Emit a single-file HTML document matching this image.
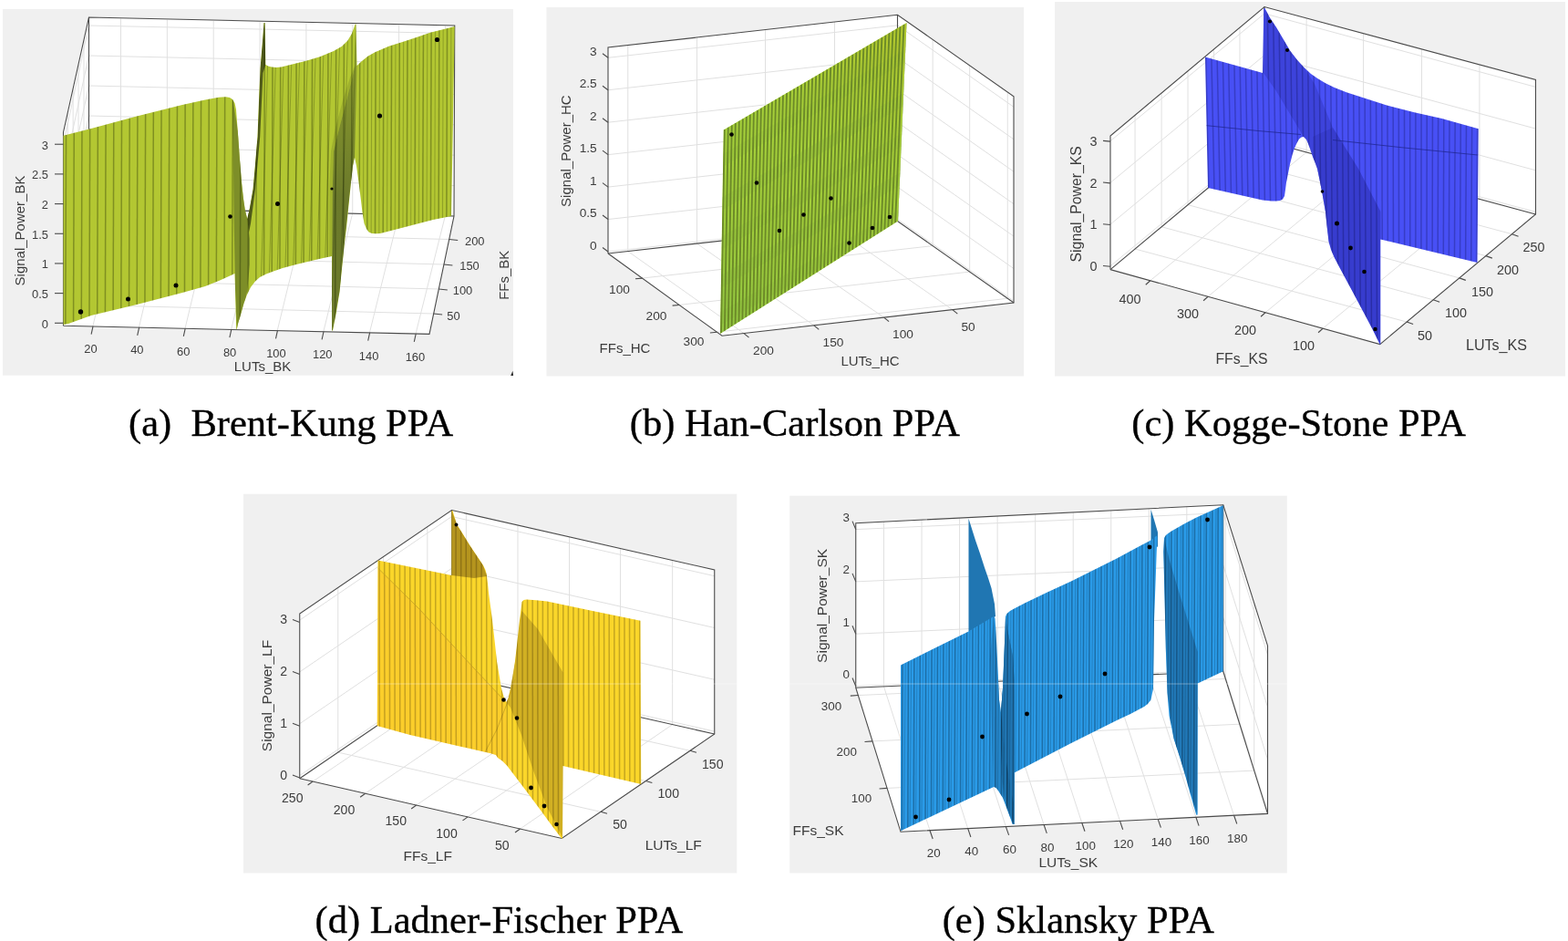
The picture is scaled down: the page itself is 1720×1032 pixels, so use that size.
<!DOCTYPE html>
<html lang="en"><head><meta charset="utf-8"><title>PPA surface plots</title>
<style>
html,body{margin:0;padding:0;background:#fff;}
body{width:1720px;height:1032px;overflow:hidden;}
svg{display:block;}
text{white-space:pre;}
</style></head><body>
<svg width="1720" height="1032" viewBox="0 0 1720 1032">
<defs>
<clipPath id="c1"><polygon points="69.50,148.75 100,141 150,127.50 200,115 225,109.50 240,106.80 247.50,106.25 252,107 255,109 257.50,113 259,120 261.25,150 263,175 265,200 267,218 268.75,230 271.25,240 274,228 277.50,207.50 280,180 282.50,150 284,110 285.50,75 288,45 289.50,25 290.50,25 291,50 291.30,71 291.50,71 294,72.60 298,73.50 303,73.90 308.60,73.50 320.70,70.50 335.80,66.70 350.90,62.20 366,56.10 375.10,50.80 381.20,44.80 385.70,37.20 388.40,30 389.60,26.60 390.50,26.60 391,50 391.50,72 392.50,71.20 396.30,67.40 403.80,61.40 411.40,57.20 426.50,50.80 441.60,46 456.80,41 471.90,35.70 490,31.20 498.75,29 497,130 495,237 475,241 450,247.50 425,254 417,256 412.50,256.30 408,256 404.50,254.50 402,251 399.50,245 397.50,233 396,220 393.50,200 391,182 389,172.50 387,182 385,200 382.50,225 380,250 377.50,270 375,295 372.50,320 369,342 365,362.50 364,362.50 364,281 350,284 325,290 310,294 300,297.50 292,300.50 285,304 280,308.50 275,315 271,323 267.50,332.50 264,345 261,355 259.80,361 259.20,361 257.50,300 240,308 225,314 200,321 150,334 100,346 75,355 69.50,356"/></clipPath>
<linearGradient id="gA" gradientUnits="userSpaceOnUse" x1="0" y1="40" x2="0" y2="215"><stop offset="0" stop-color="#66742a" stop-opacity="0.45"/><stop offset="1" stop-color="#66742a" stop-opacity="0.93"/></linearGradient>
<clipPath id="c2"><polygon points="793.75,142.50 994.50,25 985,242.50 790,366"/></clipPath>
<linearGradient id="gB" gradientUnits="userSpaceOnUse" x1="960" y1="40" x2="820" y2="350"><stop offset="0" stop-color="#c0c020" stop-opacity="0.45"/><stop offset="0.45" stop-color="#a0c830" stop-opacity="0.1"/><stop offset="1" stop-color="#78b848" stop-opacity="0.4"/></linearGradient>
<clipPath id="c3"><polygon points="1322,62.50 1385,80 1386.30,9 1387.50,9 1393,19.50 1400.20,30.20 1408,43.50 1415.40,55.90 1422.90,65.80 1430.50,74.10 1438,80.90 1445.60,86.20 1454,91.20 1463.70,96 1477,101.20 1490.90,105.80 1521.20,115.60 1551.40,123.20 1581.60,130 1621.70,141.30 1620.50,288 1514.30,262.50 1514.30,377.50 1513.50,377.50 1505,360 1496,343 1488,328 1480,313 1470,294.50 1463.60,282.30 1460,274 1457.50,265 1455.80,250 1454,232.50 1452,221 1450,210 1447.50,197 1445,185 1442.50,178 1440,172 1437,163 1435,157.50 1433,153 1430,150 1427.50,150.50 1425,152.50 1422.50,157 1420,162.50 1417.50,170 1415,180 1413,190 1411,200 1410,208 1409,215 1407,218.50 1404,220 1400,220.50 1395,220.50 1385,219.50 1365,215 1345,210.50 1325,206"/></clipPath>
<clipPath id="c4"><polygon points="414.50,614.50 495.50,631 495.50,560 496.50,560 501,575 508,586 515,597.50 522,608 530,620 532.50,625 533.75,630 535,640 536,650 538,665 540,680 542.50,702 545,725 547.50,740 550,755 552,762 553.75,767.50 555.50,770 557.50,766 560,755 562.50,741 565,725 567.50,703 570,680 571.50,668 572.50,660 574.50,658 577.50,657.50 588,658.20 600,659.50 650,670 702.50,680.75 703.25,860 617.50,840 617,919.50 616,919.50 605,905 590,884.50 575,864.50 564,850 556,839.50 551,834.50 546,831 544,828 537.50,826 500,817.50 450,806 413.75,796"/></clipPath>
<clipPath id="c5"><polygon points="988,729.50 1025,711 1062.50,692.50 1090,676 1091.50,678 1092.30,690 1093.75,717.50 1095,745 1096,767.50 1097.50,777.50 1099,790 1103,830 1108,860 1111.50,880 1111.50,903.75 1107.50,895 1100,875 1095,867 1092.50,864 1090,863 988,911.25"/></clipPath>
<clipPath id="c6"><polygon points="1103,676 1104.50,673 1108,670 1112.50,667.50 1125,661 1150,649 1175,637.50 1200,625 1225,612.50 1250,599 1262.50,592.50 1268.75,587.50 1269.50,590 1268.75,605 1267.50,640 1266,680 1265.50,720 1265,755 1264,760 1262.50,767.50 1259,772 1255,775 1240,783 1225,790 1200,802.50 1175,815 1150,828 1112.50,847.50 1112,903.75 1110.50,903.75 1107,893 1103,880 1100,860 1098,820 1098,780 1100,755 1101,730 1102.50,692.50"/></clipPath>
<clipPath id="c7"><polygon points="1277,590 1278.50,587.50 1280,586 1285,582.50 1300,574 1312.50,567.50 1341.75,554.25 1341.75,736.25 1313.75,749.50 1313.50,893.75 1312.30,893.75 1306,872 1300,850 1294,830 1287.50,810 1285,797 1282.50,785 1280.50,760 1278.75,710 1277.50,655 1276.25,605"/></clipPath>
<clipPath id="c8"><polygon points="988,729.50 1025,711 1062.50,692.50 1090,676 1091.50,678 1092.30,690 1093.75,717.50 1095,745 1096,767.50 1097.50,777.50 1099,790 1103,830 1108,860 1111.50,880 1111.50,903.75 1107.50,895 1100,875 1095,867 1092.50,864 1090,863 988,911.25"/></clipPath>
<clipPath id="c9"><polygon points="1103,676 1104.50,673 1108,670 1112.50,667.50 1125,661 1150,649 1175,637.50 1200,625 1225,612.50 1250,599 1262.50,592.50 1268.75,587.50 1269.50,590 1268.75,605 1267.50,640 1266,680 1265.50,720 1265,755 1264,760 1262.50,767.50 1259,772 1255,775 1240,783 1225,790 1200,802.50 1175,815 1150,828 1112.50,847.50 1112,903.75 1110.50,903.75 1107,893 1103,880 1100,860 1098,820 1098,780 1100,755 1101,730 1102.50,692.50"/></clipPath>
<clipPath id="c10"><polygon points="1277,590 1278.50,587.50 1280,586 1285,582.50 1300,574 1312.50,567.50 1341.75,554.25 1341.75,736.25 1313.75,749.50 1313.50,893.75 1312.30,893.75 1306,872 1300,850 1294,830 1287.50,810 1285,797 1282.50,785 1280.50,760 1278.75,710 1277.50,655 1276.25,605"/></clipPath>
</defs>
<rect width="1720" height="1032" fill="#ffffff"/>
<!-- panel a -->
<rect x="3" y="10" width="560" height="401.7" fill="#f0f0f0"/>
<polygon points="562.40,406.80 563.10,412 560.20,412" fill="#2a2a2a" stroke="none" stroke-width="1" />
<polygon points="69.50,145 97.50,19 498.75,28 498,237 471,366.40 69.50,357.20" fill="#fff" stroke="none" stroke-width="1" />
<line x1="132.50" y1="20.58" x2="132.50" y2="227.88" stroke="#e0e0e0" stroke-width="1" />
<line x1="183.35" y1="21.72" x2="183.35" y2="229.15" stroke="#e0e0e0" stroke-width="1" />
<line x1="234.20" y1="22.86" x2="234.20" y2="230.42" stroke="#e0e0e0" stroke-width="1" />
<line x1="285.05" y1="24.00" x2="285.05" y2="231.69" stroke="#e0e0e0" stroke-width="1" />
<line x1="335.90" y1="25.14" x2="335.90" y2="232.96" stroke="#e0e0e0" stroke-width="1" />
<line x1="386.75" y1="26.28" x2="386.75" y2="234.23" stroke="#e0e0e0" stroke-width="1" />
<line x1="437.60" y1="27.42" x2="437.60" y2="235.50" stroke="#e0e0e0" stroke-width="1" />
<line x1="488.45" y1="28.56" x2="488.45" y2="236.77" stroke="#e0e0e0" stroke-width="1" />
<line x1="97.50" y1="226.00" x2="498.30" y2="237.00" stroke="#e0e0e0" stroke-width="1" />
<line x1="69.50" y1="354.00" x2="97.50" y2="226.00" stroke="#e0e0e0" stroke-width="1" />
<line x1="97.50" y1="193.00" x2="498.30" y2="203.60" stroke="#e0e0e0" stroke-width="1" />
<line x1="69.50" y1="321.30" x2="97.50" y2="193.00" stroke="#e0e0e0" stroke-width="1" />
<line x1="97.50" y1="160.00" x2="498.30" y2="170.20" stroke="#e0e0e0" stroke-width="1" />
<line x1="69.50" y1="288.60" x2="97.50" y2="160.00" stroke="#e0e0e0" stroke-width="1" />
<line x1="97.50" y1="127.00" x2="498.30" y2="136.80" stroke="#e0e0e0" stroke-width="1" />
<line x1="69.50" y1="255.90" x2="97.50" y2="127.00" stroke="#e0e0e0" stroke-width="1" />
<line x1="97.50" y1="94.00" x2="498.30" y2="103.40" stroke="#e0e0e0" stroke-width="1" />
<line x1="69.50" y1="223.20" x2="97.50" y2="94.00" stroke="#e0e0e0" stroke-width="1" />
<line x1="97.50" y1="61.00" x2="498.30" y2="70.00" stroke="#e0e0e0" stroke-width="1" />
<line x1="69.50" y1="190.50" x2="97.50" y2="61.00" stroke="#e0e0e0" stroke-width="1" />
<line x1="97.50" y1="28.00" x2="498.30" y2="36.60" stroke="#e0e0e0" stroke-width="1" />
<line x1="69.50" y1="157.80" x2="97.50" y2="28.00" stroke="#e0e0e0" stroke-width="1" />
<line x1="101.80" y1="357.95" x2="132.50" y2="227.50" stroke="#e0e0e0" stroke-width="1" />
<line x1="152.40" y1="359.11" x2="183.35" y2="228.77" stroke="#e0e0e0" stroke-width="1" />
<line x1="203.00" y1="360.27" x2="234.20" y2="230.04" stroke="#e0e0e0" stroke-width="1" />
<line x1="253.60" y1="361.43" x2="285.05" y2="231.31" stroke="#e0e0e0" stroke-width="1" />
<line x1="304.20" y1="362.59" x2="335.90" y2="232.58" stroke="#e0e0e0" stroke-width="1" />
<line x1="354.80" y1="363.75" x2="386.75" y2="233.85" stroke="#e0e0e0" stroke-width="1" />
<line x1="405.40" y1="364.91" x2="437.60" y2="235.12" stroke="#e0e0e0" stroke-width="1" />
<line x1="456.00" y1="366.07" x2="488.45" y2="236.39" stroke="#e0e0e0" stroke-width="1" />
<line x1="74.28" y1="334.00" x2="475.60" y2="344.00" stroke="#e0e0e0" stroke-width="1" />
<line x1="74.28" y1="334.00" x2="74.28" y2="123.51" stroke="#e0e0e0" stroke-width="1" />
<line x1="80.14" y1="307.00" x2="481.26" y2="317.00" stroke="#e0e0e0" stroke-width="1" />
<line x1="80.14" y1="307.00" x2="80.14" y2="97.14" stroke="#e0e0e0" stroke-width="1" />
<line x1="86.00" y1="280.00" x2="486.91" y2="290.00" stroke="#e0e0e0" stroke-width="1" />
<line x1="86.00" y1="280.00" x2="86.00" y2="70.77" stroke="#e0e0e0" stroke-width="1" />
<line x1="91.97" y1="252.50" x2="492.66" y2="262.50" stroke="#e0e0e0" stroke-width="1" />
<line x1="91.97" y1="252.50" x2="91.97" y2="43.91" stroke="#e0e0e0" stroke-width="1" />
<polyline points="69.50,357.20 69.50,145 97.50,19 498.75,28 498,237 471,366.40 69.50,357.20" fill="none" stroke="#4a4a4a" stroke-width="1.1" />
<line x1="97.50" y1="19.00" x2="97.50" y2="227.00" stroke="#4a4a4a" stroke-width="1.1" />
<line x1="97.50" y1="227.00" x2="498.00" y2="237.00" stroke="#4a4a4a" stroke-width="1.1" />
<polygon points="69.50,148.75 100,141 150,127.50 200,115 225,109.50 240,106.80 247.50,106.25 252,107 255,109 257.50,113 259,120 261.25,150 263,175 265,200 267,218 268.75,230 271.25,240 274,228 277.50,207.50 280,180 282.50,150 284,110 285.50,75 288,45 289.50,25 290.50,25 291,50 291.30,71 291.50,71 294,72.60 298,73.50 303,73.90 308.60,73.50 320.70,70.50 335.80,66.70 350.90,62.20 366,56.10 375.10,50.80 381.20,44.80 385.70,37.20 388.40,30 389.60,26.60 390.50,26.60 391,50 391.50,72 392.50,71.20 396.30,67.40 403.80,61.40 411.40,57.20 426.50,50.80 441.60,46 456.80,41 471.90,35.70 490,31.20 498.75,29 497,130 495,237 475,241 450,247.50 425,254 417,256 412.50,256.30 408,256 404.50,254.50 402,251 399.50,245 397.50,233 396,220 393.50,200 391,182 389,172.50 387,182 385,200 382.50,225 380,250 377.50,270 375,295 372.50,320 369,342 365,362.50 364,362.50 364,281 350,284 325,290 310,294 300,297.50 292,300.50 285,304 280,308.50 275,315 271,323 267.50,332.50 264,345 261,355 259.80,361 259.20,361 257.50,300 240,308 225,314 200,321 150,334 100,346 75,355 69.50,356" fill="#b3c732" stroke="none" stroke-width="1" />
<g clip-path="url(#c1)">
<polygon points="255,106 262,150 266,200 271.25,240 274,262 274,290 271,320 266,345 259.80,361 258,316 256.50,235 255.70,160" fill="#6f7f26" stroke="none" stroke-width="1" opacity="0.8"/>
<polygon points="271.25,240 277.50,207.50 282.50,150 285.50,75 289.50,25 290.50,25 291.30,71 288.50,80 285.20,150 280,208 275,245 273,255" fill="#4a5418" stroke="none" stroke-width="1" opacity="0.95"/>
<polygon points="390,27 391.50,72 389,172.50 385,200 377.50,270 372.50,320 365,362.50 364,362.50 364.50,250 365,200 366,166 371,145 378,118 384,95 389.50,72" fill="url(#gA)" stroke="none" stroke-width="1" />
<polygon points="389.50,72 384,95 378,118 371,145 366,166 365,200 364.50,290 361,290 361.50,200 363,166 368,140 376,110 384,85" fill="#6f7f26" stroke="none" stroke-width="1" opacity="0.3"/>
<line x1="73.00" y1="10.00" x2="71.80" y2="370.00" stroke="#1a2400" stroke-width="1.5" opacity="0.33"/>
<line x1="81.70" y1="10.00" x2="80.50" y2="370.00" stroke="#1a2400" stroke-width="1.5" opacity="0.33"/>
<line x1="90.40" y1="10.00" x2="89.20" y2="370.00" stroke="#1a2400" stroke-width="1.5" opacity="0.33"/>
<line x1="99.10" y1="10.00" x2="97.90" y2="370.00" stroke="#1a2400" stroke-width="1.5" opacity="0.33"/>
<line x1="107.80" y1="10.00" x2="106.60" y2="370.00" stroke="#1a2400" stroke-width="1.5" opacity="0.33"/>
<line x1="116.50" y1="10.00" x2="115.30" y2="370.00" stroke="#1a2400" stroke-width="1.5" opacity="0.33"/>
<line x1="125.20" y1="10.00" x2="124.00" y2="370.00" stroke="#1a2400" stroke-width="1.5" opacity="0.33"/>
<line x1="133.90" y1="10.00" x2="132.70" y2="370.00" stroke="#1a2400" stroke-width="1.5" opacity="0.33"/>
<line x1="142.60" y1="10.00" x2="141.40" y2="370.00" stroke="#1a2400" stroke-width="1.5" opacity="0.33"/>
<line x1="151.30" y1="10.00" x2="150.10" y2="370.00" stroke="#1a2400" stroke-width="1.5" opacity="0.33"/>
<line x1="160.00" y1="10.00" x2="158.80" y2="370.00" stroke="#1a2400" stroke-width="1.5" opacity="0.33"/>
<line x1="168.70" y1="10.00" x2="167.50" y2="370.00" stroke="#1a2400" stroke-width="1.5" opacity="0.33"/>
<line x1="177.40" y1="10.00" x2="176.20" y2="370.00" stroke="#1a2400" stroke-width="1.5" opacity="0.33"/>
<line x1="186.10" y1="10.00" x2="184.90" y2="370.00" stroke="#1a2400" stroke-width="1.5" opacity="0.33"/>
<line x1="194.80" y1="10.00" x2="193.60" y2="370.00" stroke="#1a2400" stroke-width="1.5" opacity="0.33"/>
<line x1="203.50" y1="10.00" x2="202.30" y2="370.00" stroke="#1a2400" stroke-width="1.5" opacity="0.33"/>
<line x1="212.20" y1="10.00" x2="211.00" y2="370.00" stroke="#1a2400" stroke-width="1.5" opacity="0.33"/>
<line x1="220.90" y1="10.00" x2="219.70" y2="370.00" stroke="#1a2400" stroke-width="1.5" opacity="0.33"/>
<line x1="229.60" y1="10.00" x2="228.40" y2="370.00" stroke="#1a2400" stroke-width="1.5" opacity="0.33"/>
<line x1="238.30" y1="10.00" x2="237.10" y2="370.00" stroke="#1a2400" stroke-width="1.5" opacity="0.33"/>
<line x1="247.00" y1="10.00" x2="245.80" y2="370.00" stroke="#1a2400" stroke-width="1.5" opacity="0.33"/>
<line x1="255.70" y1="10.00" x2="254.50" y2="370.00" stroke="#1a2400" stroke-width="1.5" opacity="0.33"/>
<line x1="264.40" y1="10.00" x2="263.20" y2="370.00" stroke="#1a2400" stroke-width="1.5" opacity="0.33"/>
<line x1="273.10" y1="10.00" x2="271.90" y2="370.00" stroke="#1a2400" stroke-width="1.5" opacity="0.33"/>
<line x1="281.80" y1="10.00" x2="280.60" y2="370.00" stroke="#1a2400" stroke-width="1.5" opacity="0.33"/>
<line x1="290.50" y1="10.00" x2="289.30" y2="370.00" stroke="#1a2400" stroke-width="1.5" opacity="0.33"/>
<line x1="299.20" y1="10.00" x2="298.00" y2="370.00" stroke="#1a2400" stroke-width="1.5" opacity="0.33"/>
<line x1="307.90" y1="10.00" x2="306.70" y2="370.00" stroke="#1a2400" stroke-width="1.5" opacity="0.33"/>
<line x1="316.60" y1="10.00" x2="315.40" y2="370.00" stroke="#1a2400" stroke-width="1.5" opacity="0.33"/>
<line x1="325.30" y1="10.00" x2="324.10" y2="370.00" stroke="#1a2400" stroke-width="1.5" opacity="0.33"/>
<line x1="334.00" y1="10.00" x2="332.80" y2="370.00" stroke="#1a2400" stroke-width="1.5" opacity="0.33"/>
<line x1="342.70" y1="10.00" x2="341.50" y2="370.00" stroke="#1a2400" stroke-width="1.5" opacity="0.33"/>
<line x1="351.40" y1="10.00" x2="350.20" y2="370.00" stroke="#1a2400" stroke-width="1.5" opacity="0.33"/>
<line x1="360.10" y1="10.00" x2="358.90" y2="370.00" stroke="#1a2400" stroke-width="1.5" opacity="0.33"/>
<line x1="368.80" y1="10.00" x2="367.60" y2="370.00" stroke="#1a2400" stroke-width="1.5" opacity="0.33"/>
<line x1="377.50" y1="10.00" x2="376.30" y2="370.00" stroke="#1a2400" stroke-width="1.5" opacity="0.33"/>
<line x1="386.20" y1="10.00" x2="385.00" y2="370.00" stroke="#1a2400" stroke-width="1.5" opacity="0.33"/>
<line x1="394.90" y1="10.00" x2="393.70" y2="370.00" stroke="#1a2400" stroke-width="1.5" opacity="0.33"/>
<line x1="403.60" y1="10.00" x2="402.40" y2="370.00" stroke="#1a2400" stroke-width="1.5" opacity="0.33"/>
<line x1="412.30" y1="10.00" x2="411.10" y2="370.00" stroke="#1a2400" stroke-width="1.5" opacity="0.33"/>
<line x1="421.00" y1="10.00" x2="419.80" y2="370.00" stroke="#1a2400" stroke-width="1.5" opacity="0.33"/>
<line x1="429.70" y1="10.00" x2="428.50" y2="370.00" stroke="#1a2400" stroke-width="1.5" opacity="0.33"/>
<line x1="438.40" y1="10.00" x2="437.20" y2="370.00" stroke="#1a2400" stroke-width="1.5" opacity="0.33"/>
<line x1="447.10" y1="10.00" x2="445.90" y2="370.00" stroke="#1a2400" stroke-width="1.5" opacity="0.33"/>
<line x1="455.80" y1="10.00" x2="454.60" y2="370.00" stroke="#1a2400" stroke-width="1.5" opacity="0.33"/>
<line x1="464.50" y1="10.00" x2="463.30" y2="370.00" stroke="#1a2400" stroke-width="1.5" opacity="0.33"/>
<line x1="473.20" y1="10.00" x2="472.00" y2="370.00" stroke="#1a2400" stroke-width="1.5" opacity="0.33"/>
<line x1="481.90" y1="10.00" x2="480.70" y2="370.00" stroke="#1a2400" stroke-width="1.5" opacity="0.33"/>
<line x1="490.60" y1="10.00" x2="489.40" y2="370.00" stroke="#1a2400" stroke-width="1.5" opacity="0.33"/>
<line x1="499.30" y1="10.00" x2="498.10" y2="370.00" stroke="#1a2400" stroke-width="1.5" opacity="0.33"/>
<line x1="295.50" y1="10.00" x2="284.50" y2="370.00" stroke="#1a2400" stroke-width="1.0" opacity="0.26"/>
<line x1="304.20" y1="10.00" x2="293.20" y2="370.00" stroke="#1a2400" stroke-width="1.0" opacity="0.26"/>
<line x1="312.90" y1="10.00" x2="301.90" y2="370.00" stroke="#1a2400" stroke-width="1.0" opacity="0.26"/>
<line x1="321.60" y1="10.00" x2="310.60" y2="370.00" stroke="#1a2400" stroke-width="1.0" opacity="0.26"/>
<line x1="330.30" y1="10.00" x2="319.30" y2="370.00" stroke="#1a2400" stroke-width="1.0" opacity="0.26"/>
<line x1="339.00" y1="10.00" x2="328.00" y2="370.00" stroke="#1a2400" stroke-width="1.0" opacity="0.26"/>
<line x1="347.70" y1="10.00" x2="336.70" y2="370.00" stroke="#1a2400" stroke-width="1.0" opacity="0.26"/>
<line x1="356.40" y1="10.00" x2="345.40" y2="370.00" stroke="#1a2400" stroke-width="1.0" opacity="0.26"/>
<line x1="365.10" y1="10.00" x2="354.10" y2="370.00" stroke="#1a2400" stroke-width="1.0" opacity="0.26"/>
<line x1="373.80" y1="10.00" x2="362.80" y2="370.00" stroke="#1a2400" stroke-width="1.0" opacity="0.26"/>
<line x1="382.50" y1="10.00" x2="371.50" y2="370.00" stroke="#1a2400" stroke-width="1.0" opacity="0.26"/>
<line x1="391.20" y1="10.00" x2="380.20" y2="370.00" stroke="#1a2400" stroke-width="1.0" opacity="0.26"/>
<line x1="399.25" y1="10.00" x2="398.05" y2="370.00" stroke="#1a2400" stroke-width="1.0" opacity="0.24"/>
<line x1="407.95" y1="10.00" x2="406.75" y2="370.00" stroke="#1a2400" stroke-width="1.0" opacity="0.24"/>
<line x1="416.65" y1="10.00" x2="415.45" y2="370.00" stroke="#1a2400" stroke-width="1.0" opacity="0.24"/>
<line x1="425.35" y1="10.00" x2="424.15" y2="370.00" stroke="#1a2400" stroke-width="1.0" opacity="0.24"/>
<line x1="434.05" y1="10.00" x2="432.85" y2="370.00" stroke="#1a2400" stroke-width="1.0" opacity="0.24"/>
<line x1="442.75" y1="10.00" x2="441.55" y2="370.00" stroke="#1a2400" stroke-width="1.0" opacity="0.24"/>
<line x1="451.45" y1="10.00" x2="450.25" y2="370.00" stroke="#1a2400" stroke-width="1.0" opacity="0.24"/>
<line x1="460.15" y1="10.00" x2="458.95" y2="370.00" stroke="#1a2400" stroke-width="1.0" opacity="0.24"/>
<line x1="468.85" y1="10.00" x2="467.65" y2="370.00" stroke="#1a2400" stroke-width="1.0" opacity="0.24"/>
<line x1="477.55" y1="10.00" x2="476.35" y2="370.00" stroke="#1a2400" stroke-width="1.0" opacity="0.24"/>
<line x1="486.25" y1="10.00" x2="485.05" y2="370.00" stroke="#1a2400" stroke-width="1.0" opacity="0.24"/>
<line x1="494.95" y1="10.00" x2="493.75" y2="370.00" stroke="#1a2400" stroke-width="1.0" opacity="0.24"/>
</g>
<circle cx="88.50" cy="342.00" r="2.7" fill="#000"/>
<circle cx="140.50" cy="328.00" r="2.5" fill="#000"/>
<circle cx="193.00" cy="313.00" r="2.5" fill="#000"/>
<circle cx="252.50" cy="237.50" r="2.3" fill="#000"/>
<circle cx="304.50" cy="223.50" r="2.5" fill="#000"/>
<circle cx="364.00" cy="207.00" r="1.6" fill="#000"/>
<circle cx="416.50" cy="127.00" r="2.6" fill="#000"/>
<circle cx="479.50" cy="43.50" r="2.6" fill="#000"/>
<line x1="60.00" y1="354.30" x2="69.50" y2="354.30" stroke="#4a4a4a" stroke-width="1.1" />
<text x="53.00" y="359.80" font-family='"Liberation Sans", Arial, Helvetica, sans-serif' font-size="12.9" text-anchor="end" fill="#3c3c3c" >0</text>
<line x1="60.00" y1="321.62" x2="69.50" y2="321.62" stroke="#4a4a4a" stroke-width="1.1" />
<text x="53.00" y="327.12" font-family='"Liberation Sans", Arial, Helvetica, sans-serif' font-size="12.9" text-anchor="end" fill="#3c3c3c" >0.5</text>
<line x1="60.00" y1="288.94" x2="69.50" y2="288.94" stroke="#4a4a4a" stroke-width="1.1" />
<text x="53.00" y="294.44" font-family='"Liberation Sans", Arial, Helvetica, sans-serif' font-size="12.9" text-anchor="end" fill="#3c3c3c" >1</text>
<line x1="60.00" y1="256.26" x2="69.50" y2="256.26" stroke="#4a4a4a" stroke-width="1.1" />
<text x="53.00" y="261.76" font-family='"Liberation Sans", Arial, Helvetica, sans-serif' font-size="12.9" text-anchor="end" fill="#3c3c3c" >1.5</text>
<line x1="60.00" y1="223.58" x2="69.50" y2="223.58" stroke="#4a4a4a" stroke-width="1.1" />
<text x="53.00" y="229.08" font-family='"Liberation Sans", Arial, Helvetica, sans-serif' font-size="12.9" text-anchor="end" fill="#3c3c3c" >2</text>
<line x1="60.00" y1="190.90" x2="69.50" y2="190.90" stroke="#4a4a4a" stroke-width="1.1" />
<text x="53.00" y="196.40" font-family='"Liberation Sans", Arial, Helvetica, sans-serif' font-size="12.9" text-anchor="end" fill="#3c3c3c" >2.5</text>
<line x1="60.00" y1="158.22" x2="69.50" y2="158.22" stroke="#4a4a4a" stroke-width="1.1" />
<text x="53.00" y="163.72" font-family='"Liberation Sans", Arial, Helvetica, sans-serif' font-size="12.9" text-anchor="end" fill="#3c3c3c" >3</text>
<text x="27.00" y="253.00" font-family='"Liberation Sans", Arial, Helvetica, sans-serif' font-size="15" text-anchor="middle" fill="#3c3c3c" transform="rotate(-90 27.00 253.00)" >Signal_Power_BK</text>
<line x1="102.00" y1="357.95" x2="100.10" y2="366.65" stroke="#4a4a4a" stroke-width="1.1" />
<text x="99.50" y="387.20" font-family='"Liberation Sans", Arial, Helvetica, sans-serif' font-size="12.9" text-anchor="middle" fill="#3c3c3c" >20</text>
<line x1="152.60" y1="359.11" x2="150.70" y2="367.81" stroke="#4a4a4a" stroke-width="1.1" />
<text x="150.35" y="388.45" font-family='"Liberation Sans", Arial, Helvetica, sans-serif' font-size="12.9" text-anchor="middle" fill="#3c3c3c" >40</text>
<line x1="203.20" y1="360.27" x2="201.30" y2="368.97" stroke="#4a4a4a" stroke-width="1.1" />
<text x="201.20" y="389.70" font-family='"Liberation Sans", Arial, Helvetica, sans-serif' font-size="12.9" text-anchor="middle" fill="#3c3c3c" >60</text>
<line x1="253.80" y1="361.43" x2="251.90" y2="370.13" stroke="#4a4a4a" stroke-width="1.1" />
<text x="252.05" y="390.95" font-family='"Liberation Sans", Arial, Helvetica, sans-serif' font-size="12.9" text-anchor="middle" fill="#3c3c3c" >80</text>
<line x1="304.40" y1="362.59" x2="302.50" y2="371.29" stroke="#4a4a4a" stroke-width="1.1" />
<text x="302.90" y="392.20" font-family='"Liberation Sans", Arial, Helvetica, sans-serif' font-size="12.9" text-anchor="middle" fill="#3c3c3c" >100</text>
<line x1="355.00" y1="363.75" x2="353.10" y2="372.45" stroke="#4a4a4a" stroke-width="1.1" />
<text x="353.75" y="393.45" font-family='"Liberation Sans", Arial, Helvetica, sans-serif' font-size="12.9" text-anchor="middle" fill="#3c3c3c" >120</text>
<line x1="405.60" y1="364.91" x2="403.70" y2="373.61" stroke="#4a4a4a" stroke-width="1.1" />
<text x="404.60" y="394.70" font-family='"Liberation Sans", Arial, Helvetica, sans-serif' font-size="12.9" text-anchor="middle" fill="#3c3c3c" >140</text>
<line x1="456.20" y1="366.07" x2="454.30" y2="374.77" stroke="#4a4a4a" stroke-width="1.1" />
<text x="455.45" y="395.95" font-family='"Liberation Sans", Arial, Helvetica, sans-serif' font-size="12.9" text-anchor="middle" fill="#3c3c3c" >160</text>
<text x="288.00" y="406.80" font-family='"Liberation Sans", Arial, Helvetica, sans-serif' font-size="15" text-anchor="middle" fill="#3c3c3c" >LUTs_BK</text>
<line x1="475.60" y1="344.00" x2="485.10" y2="345.00" stroke="#4a4a4a" stroke-width="1.1" />
<line x1="481.30" y1="317.00" x2="490.80" y2="318.00" stroke="#4a4a4a" stroke-width="1.1" />
<line x1="486.90" y1="290.00" x2="496.40" y2="291.00" stroke="#4a4a4a" stroke-width="1.1" />
<line x1="492.70" y1="262.50" x2="502.20" y2="263.50" stroke="#4a4a4a" stroke-width="1.1" />
<text x="497.50" y="350.60" font-family='"Liberation Sans", Arial, Helvetica, sans-serif' font-size="12.9" text-anchor="middle" fill="#3c3c3c" >50</text>
<text x="507.50" y="323.35" font-family='"Liberation Sans", Arial, Helvetica, sans-serif' font-size="12.9" text-anchor="middle" fill="#3c3c3c" >100</text>
<text x="515.00" y="296.35" font-family='"Liberation Sans", Arial, Helvetica, sans-serif' font-size="12.9" text-anchor="middle" fill="#3c3c3c" >150</text>
<text x="520.75" y="268.85" font-family='"Liberation Sans", Arial, Helvetica, sans-serif' font-size="12.9" text-anchor="middle" fill="#3c3c3c" >200</text>
<text x="558.00" y="301.75" font-family='"Liberation Sans", Arial, Helvetica, sans-serif' font-size="15" text-anchor="middle" fill="#3c3c3c" transform="rotate(-90 558.00 301.75)" >FFs_BK</text>
<!-- panel b -->
<rect x="599.5" y="8" width="523.5" height="404.5" fill="#f0f0f0"/>
<polygon points="667,52 984.50,16.25 1112,105.75 1112,332 792,368.30 667,278" fill="#fff" stroke="none" stroke-width="1" />
<line x1="688.75" y1="49.55" x2="688.75" y2="275.57" stroke="#e0e0e0" stroke-width="1" />
<line x1="688.75" y1="275.57" x2="816.00" y2="365.58" stroke="#e0e0e0" stroke-width="1" />
<line x1="764.50" y1="41.02" x2="764.50" y2="267.10" stroke="#e0e0e0" stroke-width="1" />
<line x1="764.50" y1="267.10" x2="892.80" y2="356.87" stroke="#e0e0e0" stroke-width="1" />
<line x1="839.50" y1="32.58" x2="839.50" y2="258.71" stroke="#e0e0e0" stroke-width="1" />
<line x1="839.50" y1="258.71" x2="969.60" y2="348.15" stroke="#e0e0e0" stroke-width="1" />
<line x1="915.50" y1="24.02" x2="915.50" y2="250.21" stroke="#e0e0e0" stroke-width="1" />
<line x1="915.50" y1="250.21" x2="1044.80" y2="339.62" stroke="#e0e0e0" stroke-width="1" />
<line x1="667.00" y1="276.00" x2="984.50" y2="240.50" stroke="#e0e0e0" stroke-width="1" />
<line x1="984.50" y1="240.50" x2="1112.00" y2="330.00" stroke="#e0e0e0" stroke-width="1" />
<line x1="667.00" y1="240.55" x2="984.50" y2="205.05" stroke="#e0e0e0" stroke-width="1" />
<line x1="984.50" y1="205.05" x2="1112.00" y2="294.55" stroke="#e0e0e0" stroke-width="1" />
<line x1="667.00" y1="205.10" x2="984.50" y2="169.60" stroke="#e0e0e0" stroke-width="1" />
<line x1="984.50" y1="169.60" x2="1112.00" y2="259.10" stroke="#e0e0e0" stroke-width="1" />
<line x1="667.00" y1="169.65" x2="984.50" y2="134.15" stroke="#e0e0e0" stroke-width="1" />
<line x1="984.50" y1="134.15" x2="1112.00" y2="223.65" stroke="#e0e0e0" stroke-width="1" />
<line x1="667.00" y1="134.20" x2="984.50" y2="98.70" stroke="#e0e0e0" stroke-width="1" />
<line x1="984.50" y1="98.70" x2="1112.00" y2="188.20" stroke="#e0e0e0" stroke-width="1" />
<line x1="667.00" y1="98.75" x2="984.50" y2="63.25" stroke="#e0e0e0" stroke-width="1" />
<line x1="984.50" y1="63.25" x2="1112.00" y2="152.75" stroke="#e0e0e0" stroke-width="1" />
<line x1="667.00" y1="63.30" x2="984.50" y2="27.80" stroke="#e0e0e0" stroke-width="1" />
<line x1="984.50" y1="27.80" x2="1112.00" y2="117.30" stroke="#e0e0e0" stroke-width="1" />
<line x1="1023.13" y1="269.62" x2="1023.13" y2="43.37" stroke="#e0e0e0" stroke-width="1" />
<line x1="704.50" y1="305.09" x2="1023.13" y2="269.62" stroke="#e0e0e0" stroke-width="1" />
<line x1="1063.68" y1="298.08" x2="1063.68" y2="71.83" stroke="#e0e0e0" stroke-width="1" />
<line x1="745.12" y1="334.44" x2="1063.68" y2="298.08" stroke="#e0e0e0" stroke-width="1" />
<line x1="1105.24" y1="327.26" x2="1105.24" y2="101.01" stroke="#e0e0e0" stroke-width="1" />
<line x1="786.38" y1="364.24" x2="1105.24" y2="327.26" stroke="#e0e0e0" stroke-width="1" />
<polyline points="667,278 667,52 984.50,16.25 1112,105.75 1112,332 792,368.30 667,278" fill="none" stroke="#4a4a4a" stroke-width="1.1" />
<line x1="984.50" y1="16.25" x2="984.50" y2="242.50" stroke="#4a4a4a" stroke-width="1.1" />
<line x1="667.00" y1="278.00" x2="984.50" y2="242.50" stroke="#4a4a4a" stroke-width="1.1" />
<line x1="984.50" y1="242.50" x2="1112.00" y2="332.00" stroke="#4a4a4a" stroke-width="1.1" />
<polygon points="793.75,142.50 994.50,25 985,242.50 790,366" fill="#a6d13c" stroke="none" stroke-width="1" />
<g clip-path="url(#c2)">
<polygon points="793.75,142.50 994.50,25 985,242.50 790,366" fill="url(#gB)" stroke="none" stroke-width="1" />
<polygon points="790,170.50 995,53 995,67 790,184.50" fill="#7ea83a" stroke="none" stroke-width="1" opacity="0.16"/>
<polygon points="790,217.50 995,100 995,114 790,231.50" fill="#7ea83a" stroke="none" stroke-width="1" opacity="0.2"/>
<polygon points="790,260.50 995,143 995,157 790,274.50" fill="#7ea83a" stroke="none" stroke-width="1" opacity="0.16"/>
<polygon points="790,302.50 995,185 995,199 790,316.50" fill="#7ea83a" stroke="none" stroke-width="1" opacity="0.2"/>
<polygon points="790,342.50 995,225 995,239 790,356.50" fill="#7ea83a" stroke="none" stroke-width="1" opacity="0.16"/>
<line x1="794.75" y1="141.91" x2="790.98" y2="365.38" stroke="#6c8a28" stroke-width="1.9" />
<line x1="798.77" y1="139.56" x2="794.88" y2="362.91" stroke="#6c8a28" stroke-width="1.9" />
<line x1="802.78" y1="137.21" x2="798.77" y2="360.44" stroke="#6c8a28" stroke-width="1.9" />
<line x1="806.80" y1="134.86" x2="802.67" y2="357.97" stroke="#6c8a28" stroke-width="1.9" />
<line x1="810.81" y1="132.51" x2="806.58" y2="355.50" stroke="#6c8a28" stroke-width="1.9" />
<line x1="814.83" y1="130.16" x2="810.48" y2="353.03" stroke="#6c8a28" stroke-width="1.9" />
<line x1="818.84" y1="127.81" x2="814.38" y2="350.56" stroke="#6c8a28" stroke-width="1.9" />
<line x1="822.86" y1="125.46" x2="818.27" y2="348.09" stroke="#6c8a28" stroke-width="1.9" />
<line x1="826.87" y1="123.11" x2="822.17" y2="345.62" stroke="#6c8a28" stroke-width="1.9" />
<line x1="830.89" y1="120.76" x2="826.08" y2="343.15" stroke="#6c8a28" stroke-width="1.9" />
<line x1="834.90" y1="118.41" x2="829.98" y2="340.68" stroke="#6c8a28" stroke-width="1.9" />
<line x1="838.92" y1="116.06" x2="833.88" y2="338.21" stroke="#6c8a28" stroke-width="1.9" />
<line x1="842.93" y1="113.71" x2="837.77" y2="335.74" stroke="#6c8a28" stroke-width="1.9" />
<line x1="846.95" y1="111.36" x2="841.67" y2="333.27" stroke="#6c8a28" stroke-width="1.9" />
<line x1="850.96" y1="109.01" x2="845.58" y2="330.80" stroke="#6c8a28" stroke-width="1.9" />
<line x1="854.98" y1="106.66" x2="849.48" y2="328.33" stroke="#6c8a28" stroke-width="1.9" />
<line x1="858.99" y1="104.31" x2="853.38" y2="325.86" stroke="#6c8a28" stroke-width="1.9" />
<line x1="863.01" y1="101.96" x2="857.27" y2="323.39" stroke="#6c8a28" stroke-width="1.9" />
<line x1="867.02" y1="99.61" x2="861.17" y2="320.92" stroke="#6c8a28" stroke-width="1.9" />
<line x1="871.04" y1="97.26" x2="865.08" y2="318.45" stroke="#6c8a28" stroke-width="1.9" />
<line x1="875.05" y1="94.91" x2="868.98" y2="315.98" stroke="#6c8a28" stroke-width="1.9" />
<line x1="879.07" y1="92.56" x2="872.88" y2="313.51" stroke="#6c8a28" stroke-width="1.9" />
<line x1="883.08" y1="90.21" x2="876.77" y2="311.04" stroke="#6c8a28" stroke-width="1.9" />
<line x1="887.10" y1="87.86" x2="880.67" y2="308.57" stroke="#6c8a28" stroke-width="1.9" />
<line x1="891.11" y1="85.51" x2="884.58" y2="306.10" stroke="#6c8a28" stroke-width="1.9" />
<line x1="895.13" y1="83.16" x2="888.48" y2="303.63" stroke="#6c8a28" stroke-width="1.9" />
<line x1="899.14" y1="80.81" x2="892.38" y2="301.16" stroke="#6c8a28" stroke-width="1.9" />
<line x1="903.16" y1="78.46" x2="896.27" y2="298.69" stroke="#6c8a28" stroke-width="1.9" />
<line x1="907.17" y1="76.11" x2="900.17" y2="296.22" stroke="#6c8a28" stroke-width="1.9" />
<line x1="911.19" y1="73.76" x2="904.08" y2="293.75" stroke="#6c8a28" stroke-width="1.9" />
<line x1="915.20" y1="71.41" x2="907.98" y2="291.28" stroke="#6c8a28" stroke-width="1.9" />
<line x1="919.22" y1="69.06" x2="911.88" y2="288.81" stroke="#6c8a28" stroke-width="1.9" />
<line x1="923.23" y1="66.71" x2="915.77" y2="286.34" stroke="#6c8a28" stroke-width="1.9" />
<line x1="927.25" y1="64.36" x2="919.67" y2="283.87" stroke="#6c8a28" stroke-width="1.9" />
<line x1="931.26" y1="62.01" x2="923.58" y2="281.40" stroke="#6c8a28" stroke-width="1.9" />
<line x1="935.28" y1="59.66" x2="927.48" y2="278.93" stroke="#6c8a28" stroke-width="1.9" />
<line x1="939.29" y1="57.31" x2="931.38" y2="276.46" stroke="#6c8a28" stroke-width="1.9" />
<line x1="943.31" y1="54.96" x2="935.27" y2="273.99" stroke="#6c8a28" stroke-width="1.9" />
<line x1="947.32" y1="52.61" x2="939.17" y2="271.52" stroke="#6c8a28" stroke-width="1.9" />
<line x1="951.34" y1="50.26" x2="943.08" y2="269.05" stroke="#6c8a28" stroke-width="1.9" />
<line x1="955.35" y1="47.91" x2="946.98" y2="266.58" stroke="#6c8a28" stroke-width="1.9" />
<line x1="959.37" y1="45.56" x2="950.88" y2="264.11" stroke="#6c8a28" stroke-width="1.9" />
<line x1="963.38" y1="43.21" x2="954.77" y2="261.64" stroke="#6c8a28" stroke-width="1.9" />
<line x1="967.40" y1="40.86" x2="958.67" y2="259.17" stroke="#6c8a28" stroke-width="1.9" />
<line x1="971.41" y1="38.51" x2="962.58" y2="256.70" stroke="#6c8a28" stroke-width="1.9" />
<line x1="975.43" y1="36.16" x2="966.48" y2="254.23" stroke="#6c8a28" stroke-width="1.9" />
<line x1="979.44" y1="33.81" x2="970.38" y2="251.76" stroke="#6c8a28" stroke-width="1.9" />
<line x1="983.46" y1="31.46" x2="974.27" y2="249.29" stroke="#6c8a28" stroke-width="1.9" />
<line x1="987.47" y1="29.11" x2="978.17" y2="246.82" stroke="#6c8a28" stroke-width="1.9" />
<line x1="991.49" y1="26.76" x2="982.08" y2="244.35" stroke="#6c8a28" stroke-width="1.9" />
<line x1="995.50" y1="24.41" x2="985.97" y2="241.88" stroke="#6c8a28" stroke-width="1.9" />
</g>
<circle cx="802.50" cy="147.50" r="2.3" fill="#000"/>
<circle cx="830.00" cy="200.50" r="2.3" fill="#000"/>
<circle cx="855.00" cy="253.00" r="2.3" fill="#000"/>
<circle cx="881.50" cy="235.50" r="2.3" fill="#000"/>
<circle cx="911.50" cy="217.50" r="2.3" fill="#000"/>
<circle cx="931.50" cy="266.50" r="2.3" fill="#000"/>
<circle cx="957.00" cy="250.00" r="2.3" fill="#000"/>
<circle cx="976.00" cy="238.00" r="2.3" fill="#000"/>
<line x1="661.00" y1="271.50" x2="667.00" y2="276.00" stroke="#4a4a4a" stroke-width="1.1" />
<text x="654.70" y="273.70" font-family='"Liberation Sans", Arial, Helvetica, sans-serif' font-size="13.7" text-anchor="end" fill="#3c3c3c" >0</text>
<line x1="661.00" y1="236.05" x2="667.00" y2="240.55" stroke="#4a4a4a" stroke-width="1.1" />
<text x="654.70" y="238.25" font-family='"Liberation Sans", Arial, Helvetica, sans-serif' font-size="13.7" text-anchor="end" fill="#3c3c3c" >0.5</text>
<line x1="661.00" y1="200.60" x2="667.00" y2="205.10" stroke="#4a4a4a" stroke-width="1.1" />
<text x="654.70" y="202.80" font-family='"Liberation Sans", Arial, Helvetica, sans-serif' font-size="13.7" text-anchor="end" fill="#3c3c3c" >1</text>
<line x1="661.00" y1="165.15" x2="667.00" y2="169.65" stroke="#4a4a4a" stroke-width="1.1" />
<text x="654.70" y="167.35" font-family='"Liberation Sans", Arial, Helvetica, sans-serif' font-size="13.7" text-anchor="end" fill="#3c3c3c" >1.5</text>
<line x1="661.00" y1="129.70" x2="667.00" y2="134.20" stroke="#4a4a4a" stroke-width="1.1" />
<text x="654.70" y="131.90" font-family='"Liberation Sans", Arial, Helvetica, sans-serif' font-size="13.7" text-anchor="end" fill="#3c3c3c" >2</text>
<line x1="661.00" y1="94.25" x2="667.00" y2="98.75" stroke="#4a4a4a" stroke-width="1.1" />
<text x="654.70" y="96.45" font-family='"Liberation Sans", Arial, Helvetica, sans-serif' font-size="13.7" text-anchor="end" fill="#3c3c3c" >2.5</text>
<line x1="661.00" y1="58.80" x2="667.00" y2="63.30" stroke="#4a4a4a" stroke-width="1.1" />
<text x="654.70" y="61.00" font-family='"Liberation Sans", Arial, Helvetica, sans-serif' font-size="13.7" text-anchor="end" fill="#3c3c3c" >3</text>
<text x="626.50" y="165.60" font-family='"Liberation Sans", Arial, Helvetica, sans-serif' font-size="15" text-anchor="middle" fill="#3c3c3c" transform="rotate(-90 626.50 165.60)" >Signal_Power_HC</text>
<text x="679.50" y="321.90" font-family='"Liberation Sans", Arial, Helvetica, sans-serif' font-size="13.7" text-anchor="middle" fill="#3c3c3c" >100</text>
<text x="720.00" y="350.65" font-family='"Liberation Sans", Arial, Helvetica, sans-serif' font-size="13.7" text-anchor="middle" fill="#3c3c3c" >200</text>
<text x="761.00" y="379.40" font-family='"Liberation Sans", Arial, Helvetica, sans-serif' font-size="13.7" text-anchor="middle" fill="#3c3c3c" >300</text>
<line x1="704.50" y1="305.09" x2="697.00" y2="305.79" stroke="#4a4a4a" stroke-width="1.1" />
<line x1="745.12" y1="334.44" x2="737.62" y2="335.14" stroke="#4a4a4a" stroke-width="1.1" />
<line x1="786.38" y1="364.24" x2="778.88" y2="364.94" stroke="#4a4a4a" stroke-width="1.1" />
<text x="685.50" y="387.00" font-family='"Liberation Sans", Arial, Helvetica, sans-serif' font-size="15" text-anchor="middle" fill="#3c3c3c" >FFs_HC</text>
<text x="837.50" y="388.65" font-family='"Liberation Sans", Arial, Helvetica, sans-serif' font-size="13.7" text-anchor="middle" fill="#3c3c3c" >200</text>
<text x="914.00" y="380.40" font-family='"Liberation Sans", Arial, Helvetica, sans-serif' font-size="13.7" text-anchor="middle" fill="#3c3c3c" >150</text>
<text x="990.50" y="370.90" font-family='"Liberation Sans", Arial, Helvetica, sans-serif' font-size="13.7" text-anchor="middle" fill="#3c3c3c" >100</text>
<text x="1062.00" y="362.90" font-family='"Liberation Sans", Arial, Helvetica, sans-serif' font-size="13.7" text-anchor="middle" fill="#3c3c3c" >50</text>
<line x1="816.00" y1="365.58" x2="821.50" y2="370.08" stroke="#4a4a4a" stroke-width="1.1" />
<line x1="892.80" y1="356.87" x2="898.30" y2="361.37" stroke="#4a4a4a" stroke-width="1.1" />
<line x1="969.60" y1="348.15" x2="975.10" y2="352.65" stroke="#4a4a4a" stroke-width="1.1" />
<line x1="1044.80" y1="339.62" x2="1050.30" y2="344.12" stroke="#4a4a4a" stroke-width="1.1" />
<text x="954.50" y="400.50" font-family='"Liberation Sans", Arial, Helvetica, sans-serif' font-size="15" text-anchor="middle" fill="#3c3c3c" >LUTs_HC</text>
<!-- panel c -->
<rect x="1157" y="2" width="560" height="410.5" fill="#f0f0f0"/>
<polygon points="1218,149 1387,7.50 1684.50,87.50 1684.50,235 1513.75,377.60 1218,295.60" fill="#fff" stroke="none" stroke-width="1" />
<line x1="1218.00" y1="291.75" x2="1387.00" y2="152.00" stroke="#e0e0e0" stroke-width="1" />
<line x1="1387.00" y1="152.00" x2="1684.50" y2="232.50" stroke="#e0e0e0" stroke-width="1" />
<line x1="1218.00" y1="246.05" x2="1387.00" y2="106.30" stroke="#e0e0e0" stroke-width="1" />
<line x1="1387.00" y1="106.30" x2="1684.50" y2="186.80" stroke="#e0e0e0" stroke-width="1" />
<line x1="1218.00" y1="200.35" x2="1387.00" y2="60.60" stroke="#e0e0e0" stroke-width="1" />
<line x1="1387.00" y1="60.60" x2="1684.50" y2="141.10" stroke="#e0e0e0" stroke-width="1" />
<line x1="1218.00" y1="154.65" x2="1387.00" y2="14.90" stroke="#e0e0e0" stroke-width="1" />
<line x1="1387.00" y1="14.90" x2="1684.50" y2="95.40" stroke="#e0e0e0" stroke-width="1" />
<line x1="1261.77" y1="307.74" x2="1433.11" y2="166.98" stroke="#e0e0e0" stroke-width="1" />
<line x1="1433.11" y1="166.98" x2="1433.11" y2="19.90" stroke="#e0e0e0" stroke-width="1" />
<line x1="1325.06" y1="325.28" x2="1495.59" y2="183.88" stroke="#e0e0e0" stroke-width="1" />
<line x1="1495.59" y1="183.88" x2="1495.59" y2="36.70" stroke="#e0e0e0" stroke-width="1" />
<line x1="1388.06" y1="342.75" x2="1559.55" y2="201.19" stroke="#e0e0e0" stroke-width="1" />
<line x1="1559.55" y1="201.19" x2="1559.55" y2="53.90" stroke="#e0e0e0" stroke-width="1" />
<line x1="1451.05" y1="360.22" x2="1622.92" y2="218.34" stroke="#e0e0e0" stroke-width="1" />
<line x1="1622.92" y1="218.34" x2="1622.92" y2="70.94" stroke="#e0e0e0" stroke-width="1" />
<line x1="1543.12" y1="353.07" x2="1245.04" y2="273.02" stroke="#e0e0e0" stroke-width="1" />
<line x1="1245.04" y1="273.02" x2="1245.04" y2="126.36" stroke="#e0e0e0" stroke-width="1" />
<line x1="1572.15" y1="328.83" x2="1274.11" y2="248.75" stroke="#e0e0e0" stroke-width="1" />
<line x1="1274.11" y1="248.75" x2="1274.11" y2="102.02" stroke="#e0e0e0" stroke-width="1" />
<line x1="1600.83" y1="304.87" x2="1303.01" y2="224.63" stroke="#e0e0e0" stroke-width="1" />
<line x1="1303.01" y1="224.63" x2="1303.01" y2="77.83" stroke="#e0e0e0" stroke-width="1" />
<line x1="1629.86" y1="280.63" x2="1331.57" y2="200.78" stroke="#e0e0e0" stroke-width="1" />
<line x1="1331.57" y1="200.78" x2="1331.57" y2="53.91" stroke="#e0e0e0" stroke-width="1" />
<line x1="1658.55" y1="256.68" x2="1359.96" y2="177.08" stroke="#e0e0e0" stroke-width="1" />
<line x1="1359.96" y1="177.08" x2="1359.96" y2="30.14" stroke="#e0e0e0" stroke-width="1" />
<polyline points="1218,295.60 1218,149 1387,7.50 1684.50,87.50 1684.50,235 1513.75,377.60 1218,295.60" fill="none" stroke="#4a4a4a" stroke-width="1.1" />
<line x1="1387.00" y1="7.50" x2="1387.00" y2="154.50" stroke="#4a4a4a" stroke-width="1.1" />
<line x1="1218.00" y1="295.60" x2="1387.00" y2="154.50" stroke="#4a4a4a" stroke-width="1.1" />
<line x1="1387.00" y1="154.50" x2="1684.50" y2="235.00" stroke="#4a4a4a" stroke-width="1.1" />
<polygon points="1322,62.50 1385,80 1386.30,9 1387.50,9 1393,19.50 1400.20,30.20 1408,43.50 1415.40,55.90 1422.90,65.80 1430.50,74.10 1438,80.90 1445.60,86.20 1454,91.20 1463.70,96 1477,101.20 1490.90,105.80 1521.20,115.60 1551.40,123.20 1581.60,130 1621.70,141.30 1620.50,288 1514.30,262.50 1514.30,377.50 1513.50,377.50 1505,360 1496,343 1488,328 1480,313 1470,294.50 1463.60,282.30 1460,274 1457.50,265 1455.80,250 1454,232.50 1452,221 1450,210 1447.50,197 1445,185 1442.50,178 1440,172 1437,163 1435,157.50 1433,153 1430,150 1427.50,150.50 1425,152.50 1422.50,157 1420,162.50 1417.50,170 1415,180 1413,190 1411,200 1410,208 1409,215 1407,218.50 1404,220 1400,220.50 1395,220.50 1385,219.50 1365,215 1345,210.50 1325,206" fill="#4850f5" stroke="none" stroke-width="1" />
<g clip-path="url(#c3)">
<polygon points="1386.30,9 1400.20,30.20 1415.40,55.90 1430.50,74.10 1442,92 1462,140 1490,185 1514.30,232 1514.30,378 1496,343 1463.60,282.30 1457.50,265 1450,210 1440,172 1430,150 1415,125 1400,100 1386,80" fill="#2c30b0" stroke="none" stroke-width="1" opacity="0.38"/>
<polygon points="1440,150 1462,140 1490,185 1514.30,232 1514.30,378 1496,343 1463.60,282.30 1457.50,265 1450,210 1440,172" fill="#2c30b0" stroke="none" stroke-width="1" opacity="0.3"/>
<line x1="1321.31" y1="0.00" x2="1329.62" y2="380.00" stroke="#000030" stroke-width="1.5" opacity="0.24"/>
<line x1="1327.57" y1="0.00" x2="1335.65" y2="380.00" stroke="#000030" stroke-width="1.5" opacity="0.24"/>
<line x1="1333.83" y1="0.00" x2="1341.68" y2="380.00" stroke="#000030" stroke-width="1.5" opacity="0.24"/>
<line x1="1340.09" y1="0.00" x2="1347.72" y2="380.00" stroke="#000030" stroke-width="1.5" opacity="0.24"/>
<line x1="1346.35" y1="0.00" x2="1353.75" y2="380.00" stroke="#000030" stroke-width="1.5" opacity="0.24"/>
<line x1="1352.61" y1="0.00" x2="1359.78" y2="380.00" stroke="#000030" stroke-width="1.5" opacity="0.24"/>
<line x1="1358.87" y1="0.00" x2="1365.81" y2="380.00" stroke="#000030" stroke-width="1.5" opacity="0.24"/>
<line x1="1365.13" y1="0.00" x2="1371.84" y2="380.00" stroke="#000030" stroke-width="1.5" opacity="0.24"/>
<line x1="1371.39" y1="0.00" x2="1377.88" y2="380.00" stroke="#000030" stroke-width="1.5" opacity="0.24"/>
<line x1="1377.65" y1="0.00" x2="1383.91" y2="380.00" stroke="#000030" stroke-width="1.5" opacity="0.24"/>
<line x1="1383.91" y1="0.00" x2="1389.94" y2="380.00" stroke="#000030" stroke-width="1.5" opacity="0.24"/>
<line x1="1390.17" y1="0.00" x2="1395.97" y2="380.00" stroke="#000030" stroke-width="1.5" opacity="0.24"/>
<line x1="1396.43" y1="0.00" x2="1402.01" y2="380.00" stroke="#000030" stroke-width="1.5" opacity="0.24"/>
<line x1="1402.69" y1="0.00" x2="1408.04" y2="380.00" stroke="#000030" stroke-width="1.5" opacity="0.24"/>
<line x1="1408.95" y1="0.00" x2="1414.07" y2="380.00" stroke="#000030" stroke-width="1.5" opacity="0.24"/>
<line x1="1415.21" y1="0.00" x2="1420.10" y2="380.00" stroke="#000030" stroke-width="1.5" opacity="0.24"/>
<line x1="1421.47" y1="0.00" x2="1426.13" y2="380.00" stroke="#000030" stroke-width="1.5" opacity="0.24"/>
<line x1="1427.73" y1="0.00" x2="1432.17" y2="380.00" stroke="#000030" stroke-width="1.5" opacity="0.24"/>
<line x1="1433.99" y1="0.00" x2="1438.20" y2="380.00" stroke="#000030" stroke-width="1.5" opacity="0.24"/>
<line x1="1440.25" y1="0.00" x2="1444.23" y2="380.00" stroke="#000030" stroke-width="1.5" opacity="0.24"/>
<line x1="1446.51" y1="0.00" x2="1450.26" y2="380.00" stroke="#000030" stroke-width="1.5" opacity="0.24"/>
<line x1="1452.77" y1="0.00" x2="1456.30" y2="380.00" stroke="#000030" stroke-width="1.5" opacity="0.24"/>
<line x1="1459.03" y1="0.00" x2="1462.33" y2="380.00" stroke="#000030" stroke-width="1.5" opacity="0.24"/>
<line x1="1465.29" y1="0.00" x2="1468.36" y2="380.00" stroke="#000030" stroke-width="1.5" opacity="0.24"/>
<line x1="1471.55" y1="0.00" x2="1474.39" y2="380.00" stroke="#000030" stroke-width="1.5" opacity="0.24"/>
<line x1="1477.81" y1="0.00" x2="1480.42" y2="380.00" stroke="#000030" stroke-width="1.5" opacity="0.24"/>
<line x1="1484.07" y1="0.00" x2="1486.46" y2="380.00" stroke="#000030" stroke-width="1.5" opacity="0.24"/>
<line x1="1490.33" y1="0.00" x2="1492.49" y2="380.00" stroke="#000030" stroke-width="1.5" opacity="0.24"/>
<line x1="1496.59" y1="0.00" x2="1498.52" y2="380.00" stroke="#000030" stroke-width="1.5" opacity="0.24"/>
<line x1="1502.85" y1="0.00" x2="1504.55" y2="380.00" stroke="#000030" stroke-width="1.5" opacity="0.24"/>
<line x1="1509.11" y1="0.00" x2="1510.59" y2="380.00" stroke="#000030" stroke-width="1.5" opacity="0.24"/>
<line x1="1515.37" y1="0.00" x2="1516.62" y2="380.00" stroke="#000030" stroke-width="1.5" opacity="0.24"/>
<line x1="1521.63" y1="0.00" x2="1522.65" y2="380.00" stroke="#000030" stroke-width="1.5" opacity="0.24"/>
<line x1="1527.89" y1="0.00" x2="1528.68" y2="380.00" stroke="#000030" stroke-width="1.5" opacity="0.24"/>
<line x1="1534.15" y1="0.00" x2="1534.71" y2="380.00" stroke="#000030" stroke-width="1.5" opacity="0.24"/>
<line x1="1540.41" y1="0.00" x2="1540.75" y2="380.00" stroke="#000030" stroke-width="1.5" opacity="0.24"/>
<line x1="1546.67" y1="0.00" x2="1546.78" y2="380.00" stroke="#000030" stroke-width="1.5" opacity="0.24"/>
<line x1="1552.93" y1="0.00" x2="1552.81" y2="380.00" stroke="#000030" stroke-width="1.5" opacity="0.24"/>
<line x1="1559.19" y1="0.00" x2="1558.84" y2="380.00" stroke="#000030" stroke-width="1.5" opacity="0.24"/>
<line x1="1565.45" y1="0.00" x2="1564.87" y2="380.00" stroke="#000030" stroke-width="1.5" opacity="0.24"/>
<line x1="1571.71" y1="0.00" x2="1570.91" y2="380.00" stroke="#000030" stroke-width="1.5" opacity="0.24"/>
<line x1="1577.97" y1="0.00" x2="1576.94" y2="380.00" stroke="#000030" stroke-width="1.5" opacity="0.24"/>
<line x1="1584.23" y1="0.00" x2="1582.97" y2="380.00" stroke="#000030" stroke-width="1.5" opacity="0.24"/>
<line x1="1590.49" y1="0.00" x2="1589.00" y2="380.00" stroke="#000030" stroke-width="1.5" opacity="0.24"/>
<line x1="1596.75" y1="0.00" x2="1595.04" y2="380.00" stroke="#000030" stroke-width="1.5" opacity="0.24"/>
<line x1="1603.01" y1="0.00" x2="1601.07" y2="380.00" stroke="#000030" stroke-width="1.5" opacity="0.24"/>
<line x1="1609.27" y1="0.00" x2="1607.10" y2="380.00" stroke="#000030" stroke-width="1.5" opacity="0.24"/>
<line x1="1615.53" y1="0.00" x2="1613.13" y2="380.00" stroke="#000030" stroke-width="1.5" opacity="0.24"/>
<line x1="1621.79" y1="0.00" x2="1619.16" y2="380.00" stroke="#000030" stroke-width="1.5" opacity="0.24"/>
<polyline points="1322,137.50 1380,143.50 1427,147.50" fill="none" stroke="#1c2488" stroke-width="1" opacity="0.7"/>
<polyline points="1462,153.50 1540,162 1621,170" fill="none" stroke="#1c2488" stroke-width="1" opacity="0.7"/>
</g>
<circle cx="1393.00" cy="23.50" r="2.1" fill="#000"/>
<circle cx="1412.00" cy="55.00" r="2.0" fill="#000"/>
<circle cx="1450.50" cy="210.00" r="1.8" fill="#000"/>
<circle cx="1466.50" cy="245.00" r="2.5" fill="#000"/>
<circle cx="1481.50" cy="272.00" r="2.4" fill="#000"/>
<circle cx="1496.50" cy="298.00" r="2.3" fill="#000"/>
<circle cx="1508.50" cy="361.00" r="2.2" fill="#000"/>
<line x1="1210.00" y1="291.45" x2="1218.00" y2="292.25" stroke="#4a4a4a" stroke-width="1.1" />
<text x="1203.50" y="296.90" font-family='"Liberation Sans", Arial, Helvetica, sans-serif' font-size="14.4" text-anchor="end" fill="#3c3c3c" >0</text>
<line x1="1210.00" y1="245.75" x2="1218.00" y2="246.55" stroke="#4a4a4a" stroke-width="1.1" />
<text x="1203.50" y="251.20" font-family='"Liberation Sans", Arial, Helvetica, sans-serif' font-size="14.4" text-anchor="end" fill="#3c3c3c" >1</text>
<line x1="1210.00" y1="200.05" x2="1218.00" y2="200.85" stroke="#4a4a4a" stroke-width="1.1" />
<text x="1203.50" y="205.50" font-family='"Liberation Sans", Arial, Helvetica, sans-serif' font-size="14.4" text-anchor="end" fill="#3c3c3c" >2</text>
<line x1="1210.00" y1="154.35" x2="1218.00" y2="155.15" stroke="#4a4a4a" stroke-width="1.1" />
<text x="1203.50" y="159.80" font-family='"Liberation Sans", Arial, Helvetica, sans-serif' font-size="14.4" text-anchor="end" fill="#3c3c3c" >3</text>
<text x="1186.30" y="223.75" font-family='"Liberation Sans", Arial, Helvetica, sans-serif' font-size="15.8" text-anchor="middle" fill="#3c3c3c" transform="rotate(-90 1186.30 223.75)" >Signal_Power_KS</text>
<text x="1239.50" y="332.65" font-family='"Liberation Sans", Arial, Helvetica, sans-serif' font-size="14.4" text-anchor="middle" fill="#3c3c3c" >400</text>
<text x="1303.00" y="349.15" font-family='"Liberation Sans", Arial, Helvetica, sans-serif' font-size="14.4" text-anchor="middle" fill="#3c3c3c" >300</text>
<text x="1366.00" y="367.15" font-family='"Liberation Sans", Arial, Helvetica, sans-serif' font-size="14.4" text-anchor="middle" fill="#3c3c3c" >200</text>
<text x="1430.00" y="384.15" font-family='"Liberation Sans", Arial, Helvetica, sans-serif' font-size="14.4" text-anchor="middle" fill="#3c3c3c" >100</text>
<line x1="1261.77" y1="307.74" x2="1256.77" y2="312.24" stroke="#4a4a4a" stroke-width="1.1" />
<line x1="1325.06" y1="325.28" x2="1320.06" y2="329.78" stroke="#4a4a4a" stroke-width="1.1" />
<line x1="1388.06" y1="342.75" x2="1383.06" y2="347.25" stroke="#4a4a4a" stroke-width="1.1" />
<line x1="1451.05" y1="360.22" x2="1446.05" y2="364.72" stroke="#4a4a4a" stroke-width="1.1" />
<text x="1362.00" y="398.50" font-family='"Liberation Sans", Arial, Helvetica, sans-serif' font-size="15.8" text-anchor="middle" fill="#3c3c3c" >FFs_KS</text>
<text x="1563.00" y="373.15" font-family='"Liberation Sans", Arial, Helvetica, sans-serif' font-size="14.4" text-anchor="middle" fill="#3c3c3c" >50</text>
<text x="1597.00" y="348.15" font-family='"Liberation Sans", Arial, Helvetica, sans-serif' font-size="14.4" text-anchor="middle" fill="#3c3c3c" >100</text>
<text x="1626.00" y="325.15" font-family='"Liberation Sans", Arial, Helvetica, sans-serif' font-size="14.4" text-anchor="middle" fill="#3c3c3c" >150</text>
<text x="1654.00" y="301.15" font-family='"Liberation Sans", Arial, Helvetica, sans-serif' font-size="14.4" text-anchor="middle" fill="#3c3c3c" >200</text>
<text x="1682.50" y="276.15" font-family='"Liberation Sans", Arial, Helvetica, sans-serif' font-size="14.4" text-anchor="middle" fill="#3c3c3c" >250</text>
<line x1="1543.12" y1="353.07" x2="1550.12" y2="355.57" stroke="#4a4a4a" stroke-width="1.1" />
<line x1="1572.15" y1="328.83" x2="1579.15" y2="331.33" stroke="#4a4a4a" stroke-width="1.1" />
<line x1="1600.83" y1="304.87" x2="1607.83" y2="307.37" stroke="#4a4a4a" stroke-width="1.1" />
<line x1="1629.86" y1="280.63" x2="1636.86" y2="283.13" stroke="#4a4a4a" stroke-width="1.1" />
<line x1="1658.55" y1="256.68" x2="1665.55" y2="259.18" stroke="#4a4a4a" stroke-width="1.1" />
<text x="1641.50" y="383.70" font-family='"Liberation Sans", Arial, Helvetica, sans-serif' font-size="16.1" text-anchor="middle" fill="#3c3c3c" >LUTs_KS</text>
<!-- panel d -->
<rect x="267" y="541.75" width="541.25" height="415.75" fill="#f0f0f0"/>
<polygon points="328.75,673 495.50,559.50 783.75,625 783.75,805 616.25,919.50 328.75,853.75" fill="#fff" stroke="none" stroke-width="1" />
<line x1="328.75" y1="850.50" x2="495.50" y2="736.90" stroke="#e0e0e0" stroke-width="1" />
<line x1="495.50" y1="736.90" x2="783.75" y2="802.10" stroke="#e0e0e0" stroke-width="1" />
<line x1="328.75" y1="793.70" x2="495.50" y2="680.10" stroke="#e0e0e0" stroke-width="1" />
<line x1="495.50" y1="680.10" x2="783.75" y2="745.30" stroke="#e0e0e0" stroke-width="1" />
<line x1="328.75" y1="736.90" x2="495.50" y2="623.30" stroke="#e0e0e0" stroke-width="1" />
<line x1="495.50" y1="623.30" x2="783.75" y2="688.50" stroke="#e0e0e0" stroke-width="1" />
<line x1="328.75" y1="680.10" x2="495.50" y2="566.50" stroke="#e0e0e0" stroke-width="1" />
<line x1="495.50" y1="566.50" x2="783.75" y2="631.70" stroke="#e0e0e0" stroke-width="1" />
<line x1="343.12" y1="857.04" x2="511.35" y2="743.58" stroke="#e0e0e0" stroke-width="1" />
<line x1="511.35" y1="743.58" x2="511.35" y2="563.10" stroke="#e0e0e0" stroke-width="1" />
<line x1="400.62" y1="870.19" x2="567.99" y2="756.35" stroke="#e0e0e0" stroke-width="1" />
<line x1="567.99" y1="756.35" x2="567.99" y2="575.97" stroke="#e0e0e0" stroke-width="1" />
<line x1="456.69" y1="883.01" x2="624.49" y2="769.09" stroke="#e0e0e0" stroke-width="1" />
<line x1="624.49" y1="769.09" x2="624.49" y2="588.81" stroke="#e0e0e0" stroke-width="1" />
<line x1="513.04" y1="895.90" x2="680.56" y2="781.73" stroke="#e0e0e0" stroke-width="1" />
<line x1="680.56" y1="781.73" x2="680.56" y2="601.55" stroke="#e0e0e0" stroke-width="1" />
<line x1="570.54" y1="909.05" x2="737.63" y2="794.60" stroke="#e0e0e0" stroke-width="1" />
<line x1="737.63" y1="794.60" x2="737.63" y2="614.52" stroke="#e0e0e0" stroke-width="1" />
<line x1="658.96" y1="890.30" x2="370.77" y2="825.09" stroke="#e0e0e0" stroke-width="1" />
<line x1="370.77" y1="825.09" x2="370.77" y2="644.40" stroke="#e0e0e0" stroke-width="1" />
<line x1="708.38" y1="856.52" x2="420.46" y2="791.19" stroke="#e0e0e0" stroke-width="1" />
<line x1="420.46" y1="791.19" x2="420.46" y2="610.58" stroke="#e0e0e0" stroke-width="1" />
<line x1="756.95" y1="823.32" x2="468.82" y2="758.20" stroke="#e0e0e0" stroke-width="1" />
<line x1="468.82" y1="758.20" x2="468.82" y2="577.66" stroke="#e0e0e0" stroke-width="1" />
<polyline points="328.75,853.75 328.75,673 495.50,559.50 783.75,625 783.75,805 616.25,919.50 328.75,853.75" fill="none" stroke="#4a4a4a" stroke-width="1.1" />
<line x1="495.50" y1="559.50" x2="495.50" y2="740.00" stroke="#4a4a4a" stroke-width="1.1" />
<line x1="328.75" y1="853.75" x2="495.50" y2="740.00" stroke="#4a4a4a" stroke-width="1.1" />
<line x1="495.50" y1="740.00" x2="783.75" y2="805.00" stroke="#4a4a4a" stroke-width="1.1" />
<polygon points="414.50,614.50 495.50,631 495.50,560 496.50,560 501,575 508,586 515,597.50 522,608 530,620 532.50,625 533.75,630 535,640 536,650 538,665 540,680 542.50,702 545,725 547.50,740 550,755 552,762 553.75,767.50 555.50,770 557.50,766 560,755 562.50,741 565,725 567.50,703 570,680 571.50,668 572.50,660 574.50,658 577.50,657.50 588,658.20 600,659.50 650,670 702.50,680.75 703.25,860 617.50,840 617,919.50 616,919.50 605,905 590,884.50 575,864.50 564,850 556,839.50 551,834.50 546,831 544,828 537.50,826 500,817.50 450,806 413.75,796" fill="#fad62a" stroke="none" stroke-width="1" />
<g clip-path="url(#c4)">
<polygon points="495.50,560 501,575 515,597.50 530,620 534,632 520,634 495.50,631" fill="#a88a1c" stroke="none" stroke-width="1" opacity="0.85"/>
<polygon points="414,623 460,668 520,733 553,768 556,790 560,840 413,800" fill="#ffbe30" stroke="none" stroke-width="1" opacity="0.3"/>
<polygon points="572.50,670 590,690 617.50,737.50 617.50,919.50 600,885 585,845 572,806 560,776 555.50,770 565,725 570,680" fill="#a88a1c" stroke="none" stroke-width="1" opacity="0.5"/>
<polyline points="532,825 545,800 556,772 565,745" fill="none" stroke="#c4a024" stroke-width="0.8" />
<line x1="416.00" y1="550.00" x2="416.50" y2="925.00" stroke="#201000" stroke-width="1.5" opacity="0.24"/>
<line x1="421.60" y1="550.00" x2="422.10" y2="925.00" stroke="#201000" stroke-width="1.5" opacity="0.24"/>
<line x1="427.20" y1="550.00" x2="427.70" y2="925.00" stroke="#201000" stroke-width="1.5" opacity="0.24"/>
<line x1="432.80" y1="550.00" x2="433.30" y2="925.00" stroke="#201000" stroke-width="1.5" opacity="0.24"/>
<line x1="438.40" y1="550.00" x2="438.90" y2="925.00" stroke="#201000" stroke-width="1.5" opacity="0.24"/>
<line x1="444.00" y1="550.00" x2="444.50" y2="925.00" stroke="#201000" stroke-width="1.5" opacity="0.24"/>
<line x1="449.60" y1="550.00" x2="450.10" y2="925.00" stroke="#201000" stroke-width="1.5" opacity="0.24"/>
<line x1="455.20" y1="550.00" x2="455.70" y2="925.00" stroke="#201000" stroke-width="1.5" opacity="0.24"/>
<line x1="460.80" y1="550.00" x2="461.30" y2="925.00" stroke="#201000" stroke-width="1.5" opacity="0.24"/>
<line x1="466.40" y1="550.00" x2="466.90" y2="925.00" stroke="#201000" stroke-width="1.5" opacity="0.24"/>
<line x1="472.00" y1="550.00" x2="472.50" y2="925.00" stroke="#201000" stroke-width="1.5" opacity="0.24"/>
<line x1="477.60" y1="550.00" x2="478.10" y2="925.00" stroke="#201000" stroke-width="1.5" opacity="0.24"/>
<line x1="483.20" y1="550.00" x2="483.70" y2="925.00" stroke="#201000" stroke-width="1.5" opacity="0.24"/>
<line x1="488.80" y1="550.00" x2="489.30" y2="925.00" stroke="#201000" stroke-width="1.5" opacity="0.24"/>
<line x1="494.40" y1="550.00" x2="494.90" y2="925.00" stroke="#201000" stroke-width="1.5" opacity="0.24"/>
<line x1="500.00" y1="550.00" x2="500.50" y2="925.00" stroke="#201000" stroke-width="1.5" opacity="0.24"/>
<line x1="505.60" y1="550.00" x2="506.10" y2="925.00" stroke="#201000" stroke-width="1.5" opacity="0.24"/>
<line x1="511.20" y1="550.00" x2="511.70" y2="925.00" stroke="#201000" stroke-width="1.5" opacity="0.24"/>
<line x1="516.80" y1="550.00" x2="517.30" y2="925.00" stroke="#201000" stroke-width="1.5" opacity="0.24"/>
<line x1="522.40" y1="550.00" x2="522.90" y2="925.00" stroke="#201000" stroke-width="1.5" opacity="0.24"/>
<line x1="528.00" y1="550.00" x2="528.50" y2="925.00" stroke="#201000" stroke-width="1.5" opacity="0.24"/>
<line x1="533.60" y1="550.00" x2="534.10" y2="925.00" stroke="#201000" stroke-width="1.5" opacity="0.24"/>
<line x1="539.20" y1="550.00" x2="539.70" y2="925.00" stroke="#201000" stroke-width="1.5" opacity="0.24"/>
<line x1="544.80" y1="550.00" x2="545.30" y2="925.00" stroke="#201000" stroke-width="1.5" opacity="0.24"/>
<line x1="550.40" y1="550.00" x2="550.90" y2="925.00" stroke="#201000" stroke-width="1.5" opacity="0.24"/>
<line x1="556.00" y1="550.00" x2="556.50" y2="925.00" stroke="#201000" stroke-width="1.5" opacity="0.24"/>
<line x1="561.60" y1="550.00" x2="562.10" y2="925.00" stroke="#201000" stroke-width="1.5" opacity="0.24"/>
<line x1="567.20" y1="550.00" x2="567.70" y2="925.00" stroke="#201000" stroke-width="1.5" opacity="0.24"/>
<line x1="572.80" y1="550.00" x2="573.30" y2="925.00" stroke="#201000" stroke-width="1.5" opacity="0.24"/>
<line x1="578.40" y1="550.00" x2="578.90" y2="925.00" stroke="#201000" stroke-width="1.5" opacity="0.24"/>
<line x1="584.00" y1="550.00" x2="584.50" y2="925.00" stroke="#201000" stroke-width="1.5" opacity="0.24"/>
<line x1="589.60" y1="550.00" x2="590.10" y2="925.00" stroke="#201000" stroke-width="1.5" opacity="0.24"/>
<line x1="595.20" y1="550.00" x2="595.70" y2="925.00" stroke="#201000" stroke-width="1.5" opacity="0.24"/>
<line x1="600.80" y1="550.00" x2="601.30" y2="925.00" stroke="#201000" stroke-width="1.5" opacity="0.24"/>
<line x1="606.40" y1="550.00" x2="606.90" y2="925.00" stroke="#201000" stroke-width="1.5" opacity="0.24"/>
<line x1="612.00" y1="550.00" x2="612.50" y2="925.00" stroke="#201000" stroke-width="1.5" opacity="0.24"/>
<line x1="617.60" y1="550.00" x2="618.10" y2="925.00" stroke="#201000" stroke-width="1.5" opacity="0.24"/>
<line x1="623.20" y1="550.00" x2="623.70" y2="925.00" stroke="#201000" stroke-width="1.5" opacity="0.24"/>
<line x1="628.80" y1="550.00" x2="629.30" y2="925.00" stroke="#201000" stroke-width="1.5" opacity="0.24"/>
<line x1="634.40" y1="550.00" x2="634.90" y2="925.00" stroke="#201000" stroke-width="1.5" opacity="0.24"/>
<line x1="640.00" y1="550.00" x2="640.50" y2="925.00" stroke="#201000" stroke-width="1.5" opacity="0.24"/>
<line x1="645.60" y1="550.00" x2="646.10" y2="925.00" stroke="#201000" stroke-width="1.5" opacity="0.24"/>
<line x1="651.20" y1="550.00" x2="651.70" y2="925.00" stroke="#201000" stroke-width="1.5" opacity="0.24"/>
<line x1="656.80" y1="550.00" x2="657.30" y2="925.00" stroke="#201000" stroke-width="1.5" opacity="0.24"/>
<line x1="662.40" y1="550.00" x2="662.90" y2="925.00" stroke="#201000" stroke-width="1.5" opacity="0.24"/>
<line x1="668.00" y1="550.00" x2="668.50" y2="925.00" stroke="#201000" stroke-width="1.5" opacity="0.24"/>
<line x1="673.60" y1="550.00" x2="674.10" y2="925.00" stroke="#201000" stroke-width="1.5" opacity="0.24"/>
<line x1="679.20" y1="550.00" x2="679.70" y2="925.00" stroke="#201000" stroke-width="1.5" opacity="0.24"/>
<line x1="684.80" y1="550.00" x2="685.30" y2="925.00" stroke="#201000" stroke-width="1.5" opacity="0.24"/>
<line x1="690.40" y1="550.00" x2="690.90" y2="925.00" stroke="#201000" stroke-width="1.5" opacity="0.24"/>
<line x1="696.00" y1="550.00" x2="696.50" y2="925.00" stroke="#201000" stroke-width="1.5" opacity="0.24"/>
<line x1="701.60" y1="550.00" x2="702.10" y2="925.00" stroke="#201000" stroke-width="1.5" opacity="0.24"/>
<polyline points="414.50,623 460,668 520,733 553,768" fill="none" stroke="#c4a024" stroke-width="0.8" />
</g>
<line x1="414.00" y1="750.00" x2="808.00" y2="750.00" stroke="#ffffff" stroke-width="1" opacity="0.35"/>
<circle cx="500.50" cy="575.50" r="1.9" fill="#000"/>
<circle cx="552.50" cy="767.50" r="2.3" fill="#000"/>
<circle cx="567.00" cy="787.50" r="2.3" fill="#000"/>
<circle cx="582.50" cy="864.00" r="2.4" fill="#000"/>
<circle cx="597.00" cy="884.00" r="2.4" fill="#000"/>
<circle cx="610.50" cy="904.00" r="2.3" fill="#000"/>
<line x1="321.00" y1="850.00" x2="328.75" y2="853.00" stroke="#4a4a4a" stroke-width="1.1" />
<text x="315.00" y="854.80" font-family='"Liberation Sans", Arial, Helvetica, sans-serif' font-size="14.1" text-anchor="end" fill="#3c3c3c" >0</text>
<line x1="321.00" y1="793.20" x2="328.75" y2="796.20" stroke="#4a4a4a" stroke-width="1.1" />
<text x="315.00" y="798.00" font-family='"Liberation Sans", Arial, Helvetica, sans-serif' font-size="14.1" text-anchor="end" fill="#3c3c3c" >1</text>
<line x1="321.00" y1="736.40" x2="328.75" y2="739.40" stroke="#4a4a4a" stroke-width="1.1" />
<text x="315.00" y="741.20" font-family='"Liberation Sans", Arial, Helvetica, sans-serif' font-size="14.1" text-anchor="end" fill="#3c3c3c" >2</text>
<line x1="321.00" y1="679.60" x2="328.75" y2="682.60" stroke="#4a4a4a" stroke-width="1.1" />
<text x="315.00" y="684.40" font-family='"Liberation Sans", Arial, Helvetica, sans-serif' font-size="14.1" text-anchor="end" fill="#3c3c3c" >3</text>
<text x="297.80" y="763.00" font-family='"Liberation Sans", Arial, Helvetica, sans-serif' font-size="15.5" text-anchor="middle" fill="#3c3c3c" transform="rotate(-90 297.80 763.00)" >Signal_Power_LF</text>
<text x="320.75" y="879.85" font-family='"Liberation Sans", Arial, Helvetica, sans-serif' font-size="14.1" text-anchor="middle" fill="#3c3c3c" >250</text>
<text x="377.50" y="892.85" font-family='"Liberation Sans", Arial, Helvetica, sans-serif' font-size="14.1" text-anchor="middle" fill="#3c3c3c" >200</text>
<text x="434.25" y="905.35" font-family='"Liberation Sans", Arial, Helvetica, sans-serif' font-size="14.1" text-anchor="middle" fill="#3c3c3c" >150</text>
<text x="490.00" y="918.60" font-family='"Liberation Sans", Arial, Helvetica, sans-serif' font-size="14.1" text-anchor="middle" fill="#3c3c3c" >100</text>
<text x="550.75" y="931.60" font-family='"Liberation Sans", Arial, Helvetica, sans-serif' font-size="14.1" text-anchor="middle" fill="#3c3c3c" >50</text>
<line x1="343.12" y1="857.04" x2="337.62" y2="861.04" stroke="#4a4a4a" stroke-width="1.1" />
<line x1="400.62" y1="870.19" x2="395.12" y2="874.19" stroke="#4a4a4a" stroke-width="1.1" />
<line x1="456.69" y1="883.01" x2="451.19" y2="887.01" stroke="#4a4a4a" stroke-width="1.1" />
<line x1="513.04" y1="895.90" x2="507.54" y2="899.90" stroke="#4a4a4a" stroke-width="1.1" />
<line x1="570.54" y1="909.05" x2="565.04" y2="913.05" stroke="#4a4a4a" stroke-width="1.1" />
<text x="469.25" y="943.60" font-family='"Liberation Sans", Arial, Helvetica, sans-serif' font-size="15.5" text-anchor="middle" fill="#3c3c3c" >FFs_LF</text>
<text x="680.00" y="909.45" font-family='"Liberation Sans", Arial, Helvetica, sans-serif' font-size="14.1" text-anchor="middle" fill="#3c3c3c" >50</text>
<text x="733.25" y="875.20" font-family='"Liberation Sans", Arial, Helvetica, sans-serif' font-size="14.1" text-anchor="middle" fill="#3c3c3c" >100</text>
<text x="781.75" y="842.70" font-family='"Liberation Sans", Arial, Helvetica, sans-serif' font-size="14.1" text-anchor="middle" fill="#3c3c3c" >150</text>
<line x1="658.96" y1="890.30" x2="665.96" y2="892.30" stroke="#4a4a4a" stroke-width="1.1" />
<line x1="708.38" y1="856.52" x2="715.38" y2="858.52" stroke="#4a4a4a" stroke-width="1.1" />
<line x1="756.95" y1="823.32" x2="763.95" y2="825.32" stroke="#4a4a4a" stroke-width="1.1" />
<text x="738.75" y="932.20" font-family='"Liberation Sans", Arial, Helvetica, sans-serif' font-size="15.5" text-anchor="middle" fill="#3c3c3c" >LUTs_LF</text>
<!-- panel e -->
<rect x="866.25" y="543.75" width="545.5" height="413.75" fill="#f0f0f0"/>
<polygon points="938.75,573.75 1341.75,553.75 1390.50,708 1390.50,892.40 988,912.30 938.75,754.25" fill="#fff" stroke="none" stroke-width="1" />
<line x1="938.75" y1="752.50" x2="1341.75" y2="734.50" stroke="#e0e0e0" stroke-width="1" />
<line x1="1341.75" y1="734.50" x2="1390.50" y2="890.00" stroke="#e0e0e0" stroke-width="1" />
<line x1="938.75" y1="695.20" x2="1341.75" y2="677.20" stroke="#e0e0e0" stroke-width="1" />
<line x1="1341.75" y1="677.20" x2="1390.50" y2="832.70" stroke="#e0e0e0" stroke-width="1" />
<line x1="938.75" y1="637.90" x2="1341.75" y2="619.90" stroke="#e0e0e0" stroke-width="1" />
<line x1="1341.75" y1="619.90" x2="1390.50" y2="775.40" stroke="#e0e0e0" stroke-width="1" />
<line x1="938.75" y1="580.60" x2="1341.75" y2="562.60" stroke="#e0e0e0" stroke-width="1" />
<line x1="1341.75" y1="562.60" x2="1390.50" y2="718.10" stroke="#e0e0e0" stroke-width="1" />
<line x1="969.50" y1="572.22" x2="969.50" y2="752.88" stroke="#e0e0e0" stroke-width="1" />
<line x1="969.50" y1="752.88" x2="1020.00" y2="910.72" stroke="#e0e0e0" stroke-width="1" />
<line x1="1011.04" y1="570.16" x2="1011.04" y2="751.02" stroke="#e0e0e0" stroke-width="1" />
<line x1="1011.04" y1="751.02" x2="1061.70" y2="908.66" stroke="#e0e0e0" stroke-width="1" />
<line x1="1052.58" y1="568.10" x2="1052.58" y2="749.17" stroke="#e0e0e0" stroke-width="1" />
<line x1="1052.58" y1="749.17" x2="1103.40" y2="906.59" stroke="#e0e0e0" stroke-width="1" />
<line x1="1094.12" y1="566.04" x2="1094.12" y2="747.31" stroke="#e0e0e0" stroke-width="1" />
<line x1="1094.12" y1="747.31" x2="1145.10" y2="904.53" stroke="#e0e0e0" stroke-width="1" />
<line x1="1135.66" y1="563.98" x2="1135.66" y2="745.46" stroke="#e0e0e0" stroke-width="1" />
<line x1="1135.66" y1="745.46" x2="1186.79" y2="902.47" stroke="#e0e0e0" stroke-width="1" />
<line x1="1177.20" y1="561.92" x2="1177.20" y2="743.60" stroke="#e0e0e0" stroke-width="1" />
<line x1="1177.20" y1="743.60" x2="1228.49" y2="900.41" stroke="#e0e0e0" stroke-width="1" />
<line x1="1218.74" y1="559.85" x2="1218.74" y2="741.74" stroke="#e0e0e0" stroke-width="1" />
<line x1="1218.74" y1="741.74" x2="1270.19" y2="898.35" stroke="#e0e0e0" stroke-width="1" />
<line x1="1260.28" y1="557.79" x2="1260.28" y2="739.89" stroke="#e0e0e0" stroke-width="1" />
<line x1="1260.28" y1="739.89" x2="1311.89" y2="896.29" stroke="#e0e0e0" stroke-width="1" />
<line x1="1301.82" y1="555.73" x2="1301.82" y2="738.03" stroke="#e0e0e0" stroke-width="1" />
<line x1="1301.82" y1="738.03" x2="1353.59" y2="894.22" stroke="#e0e0e0" stroke-width="1" />
<line x1="941.34" y1="762.55" x2="1344.31" y2="744.45" stroke="#e0e0e0" stroke-width="1" />
<line x1="1344.31" y1="744.45" x2="1344.31" y2="561.85" stroke="#e0e0e0" stroke-width="1" />
<line x1="957.02" y1="812.89" x2="1359.84" y2="794.18" stroke="#e0e0e0" stroke-width="1" />
<line x1="1359.84" y1="794.18" x2="1359.84" y2="610.98" stroke="#e0e0e0" stroke-width="1" />
<line x1="973.08" y1="864.41" x2="1375.73" y2="845.09" stroke="#e0e0e0" stroke-width="1" />
<line x1="1375.73" y1="845.09" x2="1375.73" y2="661.26" stroke="#e0e0e0" stroke-width="1" />
<polyline points="938.75,754.25 938.75,573.75 1341.75,553.75 1390.50,708 1390.50,892.40 988,912.30 938.75,754.25" fill="none" stroke="#4a4a4a" stroke-width="1.1" />
<line x1="938.75" y1="754.25" x2="1341.75" y2="736.25" stroke="#4a4a4a" stroke-width="1.1" />
<line x1="1341.75" y1="736.25" x2="1390.50" y2="892.40" stroke="#4a4a4a" stroke-width="1.1" />
<line x1="1341.75" y1="553.75" x2="1341.75" y2="736.25" stroke="#4a4a4a" stroke-width="1.1" />
<polygon points="1062.50,568.75 1070,592.50 1075,607 1080,622.50 1084,634 1087.50,645 1091,662.50 1092,676 1062.50,693" fill="#2076b2" stroke="none" stroke-width="1" />
<polygon points="1262.50,558.75 1266,570 1270,583.75 1270,600 1262.50,595" fill="#2076b2" stroke="none" stroke-width="1" />
<polygon points="988,729.50 1025,711 1062.50,692.50 1090,676 1091.50,678 1092.30,690 1093.75,717.50 1095,745 1096,767.50 1097.50,777.50 1099,790 1103,830 1108,860 1111.50,880 1111.50,903.75 1107.50,895 1100,875 1095,867 1092.50,864 1090,863 988,911.25" fill="#2a9be8" stroke="none" stroke-width="1" />
<polygon points="1103,676 1104.50,673 1108,670 1112.50,667.50 1125,661 1150,649 1175,637.50 1200,625 1225,612.50 1250,599 1262.50,592.50 1268.75,587.50 1269.50,590 1268.75,605 1267.50,640 1266,680 1265.50,720 1265,755 1264,760 1262.50,767.50 1259,772 1255,775 1240,783 1225,790 1200,802.50 1175,815 1150,828 1112.50,847.50 1112,903.75 1110.50,903.75 1107,893 1103,880 1100,860 1098,820 1098,780 1100,755 1101,730 1102.50,692.50" fill="#2a9be8" stroke="none" stroke-width="1" />
<polygon points="1277,590 1278.50,587.50 1280,586 1285,582.50 1300,574 1312.50,567.50 1341.75,554.25 1341.75,736.25 1313.75,749.50 1313.50,893.75 1312.30,893.75 1306,872 1300,850 1294,830 1287.50,810 1285,797 1282.50,785 1280.50,760 1278.75,710 1277.50,655 1276.25,605" fill="#2a9be8" stroke="none" stroke-width="1" />
<g clip-path="url(#c5)">
<polygon points="1090,676 1097.50,777.50 1103,830 1111.50,880 1111.50,904 1100,875 1092.50,864 1090,863 1088,800 1086,720" fill="#2076b2" stroke="none" stroke-width="1" opacity="0.55"/>
</g>
<g clip-path="url(#c6)">
<polygon points="1103,676 1105,690 1111,720 1112.60,746 1113,765 1113,904 1107,893 1100,860 1098,780 1101,730" fill="#2076b2" stroke="none" stroke-width="1" opacity="0.9"/>
</g>
<g clip-path="url(#c7)">
<polygon points="1277,590 1283,615 1295,655 1313.75,715 1313.75,894 1300,850 1287.50,810 1280.50,760 1276.25,605" fill="#2076b2" stroke="none" stroke-width="1" opacity="0.9"/>
</g>
<polygon points="1103,676 1105,690 1111,720 1112.60,746 1113,765 1113,904 1111.80,904 1106.50,888.80 1100.50,870.70 1098.20,848 1098,780 1100,755 1101,730 1102.50,692.50" fill="#2076b2" stroke="none" stroke-width="1" opacity="0.85"/>
<g clip-path="url(#c8)">
<line x1="990.60" y1="550.00" x2="989.40" y2="915.00" stroke="#001020" stroke-width="1.5" opacity="0.32"/>
<line x1="994.80" y1="550.00" x2="991.60" y2="915.00" stroke="#001020" stroke-width="1.0" opacity="0.2"/>
<line x1="997.00" y1="550.00" x2="995.80" y2="915.00" stroke="#001020" stroke-width="1.5" opacity="0.32"/>
<line x1="1001.20" y1="550.00" x2="998.00" y2="915.00" stroke="#001020" stroke-width="1.0" opacity="0.2"/>
<line x1="1003.40" y1="550.00" x2="1002.20" y2="915.00" stroke="#001020" stroke-width="1.5" opacity="0.32"/>
<line x1="1007.60" y1="550.00" x2="1004.40" y2="915.00" stroke="#001020" stroke-width="1.0" opacity="0.2"/>
<line x1="1009.80" y1="550.00" x2="1008.60" y2="915.00" stroke="#001020" stroke-width="1.5" opacity="0.32"/>
<line x1="1014.00" y1="550.00" x2="1010.80" y2="915.00" stroke="#001020" stroke-width="1.0" opacity="0.2"/>
<line x1="1016.20" y1="550.00" x2="1015.00" y2="915.00" stroke="#001020" stroke-width="1.5" opacity="0.32"/>
<line x1="1020.40" y1="550.00" x2="1017.20" y2="915.00" stroke="#001020" stroke-width="1.0" opacity="0.2"/>
<line x1="1022.60" y1="550.00" x2="1021.40" y2="915.00" stroke="#001020" stroke-width="1.5" opacity="0.32"/>
<line x1="1026.80" y1="550.00" x2="1023.60" y2="915.00" stroke="#001020" stroke-width="1.0" opacity="0.2"/>
<line x1="1029.00" y1="550.00" x2="1027.80" y2="915.00" stroke="#001020" stroke-width="1.5" opacity="0.32"/>
<line x1="1033.20" y1="550.00" x2="1030.00" y2="915.00" stroke="#001020" stroke-width="1.0" opacity="0.2"/>
<line x1="1035.40" y1="550.00" x2="1034.20" y2="915.00" stroke="#001020" stroke-width="1.5" opacity="0.32"/>
<line x1="1039.60" y1="550.00" x2="1036.40" y2="915.00" stroke="#001020" stroke-width="1.0" opacity="0.2"/>
<line x1="1041.80" y1="550.00" x2="1040.60" y2="915.00" stroke="#001020" stroke-width="1.5" opacity="0.32"/>
<line x1="1046.00" y1="550.00" x2="1042.80" y2="915.00" stroke="#001020" stroke-width="1.0" opacity="0.2"/>
<line x1="1048.20" y1="550.00" x2="1047.00" y2="915.00" stroke="#001020" stroke-width="1.5" opacity="0.32"/>
<line x1="1052.40" y1="550.00" x2="1049.20" y2="915.00" stroke="#001020" stroke-width="1.0" opacity="0.2"/>
<line x1="1054.60" y1="550.00" x2="1053.40" y2="915.00" stroke="#001020" stroke-width="1.5" opacity="0.32"/>
<line x1="1058.80" y1="550.00" x2="1055.60" y2="915.00" stroke="#001020" stroke-width="1.0" opacity="0.2"/>
<line x1="1061.00" y1="550.00" x2="1059.80" y2="915.00" stroke="#001020" stroke-width="1.5" opacity="0.32"/>
<line x1="1065.20" y1="550.00" x2="1062.00" y2="915.00" stroke="#001020" stroke-width="1.0" opacity="0.2"/>
<line x1="1067.40" y1="550.00" x2="1066.20" y2="915.00" stroke="#001020" stroke-width="1.5" opacity="0.32"/>
<line x1="1071.60" y1="550.00" x2="1068.40" y2="915.00" stroke="#001020" stroke-width="1.0" opacity="0.2"/>
<line x1="1073.80" y1="550.00" x2="1072.60" y2="915.00" stroke="#001020" stroke-width="1.5" opacity="0.32"/>
<line x1="1078.00" y1="550.00" x2="1074.80" y2="915.00" stroke="#001020" stroke-width="1.0" opacity="0.2"/>
<line x1="1080.20" y1="550.00" x2="1079.00" y2="915.00" stroke="#001020" stroke-width="1.5" opacity="0.32"/>
<line x1="1084.40" y1="550.00" x2="1081.20" y2="915.00" stroke="#001020" stroke-width="1.0" opacity="0.2"/>
<line x1="1086.60" y1="550.00" x2="1085.40" y2="915.00" stroke="#001020" stroke-width="1.5" opacity="0.32"/>
<line x1="1090.80" y1="550.00" x2="1087.60" y2="915.00" stroke="#001020" stroke-width="1.0" opacity="0.2"/>
<line x1="1093.00" y1="550.00" x2="1091.80" y2="915.00" stroke="#001020" stroke-width="1.5" opacity="0.32"/>
<line x1="1097.20" y1="550.00" x2="1094.00" y2="915.00" stroke="#001020" stroke-width="1.0" opacity="0.2"/>
<line x1="1099.40" y1="550.00" x2="1098.20" y2="915.00" stroke="#001020" stroke-width="1.5" opacity="0.32"/>
<line x1="1103.60" y1="550.00" x2="1100.40" y2="915.00" stroke="#001020" stroke-width="1.0" opacity="0.2"/>
<line x1="1105.80" y1="550.00" x2="1104.60" y2="915.00" stroke="#001020" stroke-width="1.5" opacity="0.32"/>
<line x1="1110.00" y1="550.00" x2="1106.80" y2="915.00" stroke="#001020" stroke-width="1.0" opacity="0.2"/>
<line x1="1112.20" y1="550.00" x2="1111.00" y2="915.00" stroke="#001020" stroke-width="1.5" opacity="0.32"/>
<line x1="1116.40" y1="550.00" x2="1113.20" y2="915.00" stroke="#001020" stroke-width="1.0" opacity="0.2"/>
<line x1="1118.60" y1="550.00" x2="1117.40" y2="915.00" stroke="#001020" stroke-width="1.5" opacity="0.32"/>
<line x1="1122.80" y1="550.00" x2="1119.60" y2="915.00" stroke="#001020" stroke-width="1.0" opacity="0.2"/>
<line x1="1125.00" y1="550.00" x2="1123.80" y2="915.00" stroke="#001020" stroke-width="1.5" opacity="0.32"/>
<line x1="1129.20" y1="550.00" x2="1126.00" y2="915.00" stroke="#001020" stroke-width="1.0" opacity="0.2"/>
<line x1="1131.40" y1="550.00" x2="1130.20" y2="915.00" stroke="#001020" stroke-width="1.5" opacity="0.32"/>
<line x1="1135.60" y1="550.00" x2="1132.40" y2="915.00" stroke="#001020" stroke-width="1.0" opacity="0.2"/>
<line x1="1137.80" y1="550.00" x2="1136.60" y2="915.00" stroke="#001020" stroke-width="1.5" opacity="0.32"/>
<line x1="1142.00" y1="550.00" x2="1138.80" y2="915.00" stroke="#001020" stroke-width="1.0" opacity="0.2"/>
<line x1="1144.20" y1="550.00" x2="1143.00" y2="915.00" stroke="#001020" stroke-width="1.5" opacity="0.32"/>
<line x1="1148.40" y1="550.00" x2="1145.20" y2="915.00" stroke="#001020" stroke-width="1.0" opacity="0.2"/>
<line x1="1150.60" y1="550.00" x2="1149.40" y2="915.00" stroke="#001020" stroke-width="1.5" opacity="0.32"/>
<line x1="1154.80" y1="550.00" x2="1151.60" y2="915.00" stroke="#001020" stroke-width="1.0" opacity="0.2"/>
<line x1="1157.00" y1="550.00" x2="1155.80" y2="915.00" stroke="#001020" stroke-width="1.5" opacity="0.32"/>
<line x1="1161.20" y1="550.00" x2="1158.00" y2="915.00" stroke="#001020" stroke-width="1.0" opacity="0.2"/>
<line x1="1163.40" y1="550.00" x2="1162.20" y2="915.00" stroke="#001020" stroke-width="1.5" opacity="0.32"/>
<line x1="1167.60" y1="550.00" x2="1164.40" y2="915.00" stroke="#001020" stroke-width="1.0" opacity="0.2"/>
<line x1="1169.80" y1="550.00" x2="1168.60" y2="915.00" stroke="#001020" stroke-width="1.5" opacity="0.32"/>
<line x1="1174.00" y1="550.00" x2="1170.80" y2="915.00" stroke="#001020" stroke-width="1.0" opacity="0.2"/>
<line x1="1176.20" y1="550.00" x2="1175.00" y2="915.00" stroke="#001020" stroke-width="1.5" opacity="0.32"/>
<line x1="1180.40" y1="550.00" x2="1177.20" y2="915.00" stroke="#001020" stroke-width="1.0" opacity="0.2"/>
<line x1="1182.60" y1="550.00" x2="1181.40" y2="915.00" stroke="#001020" stroke-width="1.5" opacity="0.32"/>
<line x1="1186.80" y1="550.00" x2="1183.60" y2="915.00" stroke="#001020" stroke-width="1.0" opacity="0.2"/>
<line x1="1189.00" y1="550.00" x2="1187.80" y2="915.00" stroke="#001020" stroke-width="1.5" opacity="0.32"/>
<line x1="1193.20" y1="550.00" x2="1190.00" y2="915.00" stroke="#001020" stroke-width="1.0" opacity="0.2"/>
<line x1="1195.40" y1="550.00" x2="1194.20" y2="915.00" stroke="#001020" stroke-width="1.5" opacity="0.32"/>
<line x1="1199.60" y1="550.00" x2="1196.40" y2="915.00" stroke="#001020" stroke-width="1.0" opacity="0.2"/>
<line x1="1201.80" y1="550.00" x2="1200.60" y2="915.00" stroke="#001020" stroke-width="1.5" opacity="0.32"/>
<line x1="1206.00" y1="550.00" x2="1202.80" y2="915.00" stroke="#001020" stroke-width="1.0" opacity="0.2"/>
<line x1="1208.20" y1="550.00" x2="1207.00" y2="915.00" stroke="#001020" stroke-width="1.5" opacity="0.32"/>
<line x1="1212.40" y1="550.00" x2="1209.20" y2="915.00" stroke="#001020" stroke-width="1.0" opacity="0.2"/>
<line x1="1214.60" y1="550.00" x2="1213.40" y2="915.00" stroke="#001020" stroke-width="1.5" opacity="0.32"/>
<line x1="1218.80" y1="550.00" x2="1215.60" y2="915.00" stroke="#001020" stroke-width="1.0" opacity="0.2"/>
<line x1="1221.00" y1="550.00" x2="1219.80" y2="915.00" stroke="#001020" stroke-width="1.5" opacity="0.32"/>
<line x1="1225.20" y1="550.00" x2="1222.00" y2="915.00" stroke="#001020" stroke-width="1.0" opacity="0.2"/>
<line x1="1227.40" y1="550.00" x2="1226.20" y2="915.00" stroke="#001020" stroke-width="1.5" opacity="0.32"/>
<line x1="1231.60" y1="550.00" x2="1228.40" y2="915.00" stroke="#001020" stroke-width="1.0" opacity="0.2"/>
<line x1="1233.80" y1="550.00" x2="1232.60" y2="915.00" stroke="#001020" stroke-width="1.5" opacity="0.32"/>
<line x1="1238.00" y1="550.00" x2="1234.80" y2="915.00" stroke="#001020" stroke-width="1.0" opacity="0.2"/>
<line x1="1240.20" y1="550.00" x2="1239.00" y2="915.00" stroke="#001020" stroke-width="1.5" opacity="0.32"/>
<line x1="1244.40" y1="550.00" x2="1241.20" y2="915.00" stroke="#001020" stroke-width="1.0" opacity="0.2"/>
<line x1="1246.60" y1="550.00" x2="1245.40" y2="915.00" stroke="#001020" stroke-width="1.5" opacity="0.32"/>
<line x1="1250.80" y1="550.00" x2="1247.60" y2="915.00" stroke="#001020" stroke-width="1.0" opacity="0.2"/>
<line x1="1253.00" y1="550.00" x2="1251.80" y2="915.00" stroke="#001020" stroke-width="1.5" opacity="0.32"/>
<line x1="1257.20" y1="550.00" x2="1254.00" y2="915.00" stroke="#001020" stroke-width="1.0" opacity="0.2"/>
<line x1="1259.40" y1="550.00" x2="1258.20" y2="915.00" stroke="#001020" stroke-width="1.5" opacity="0.32"/>
<line x1="1263.60" y1="550.00" x2="1260.40" y2="915.00" stroke="#001020" stroke-width="1.0" opacity="0.2"/>
<line x1="1265.80" y1="550.00" x2="1264.60" y2="915.00" stroke="#001020" stroke-width="1.5" opacity="0.32"/>
<line x1="1270.00" y1="550.00" x2="1266.80" y2="915.00" stroke="#001020" stroke-width="1.0" opacity="0.2"/>
<line x1="1272.20" y1="550.00" x2="1271.00" y2="915.00" stroke="#001020" stroke-width="1.5" opacity="0.32"/>
<line x1="1276.40" y1="550.00" x2="1273.20" y2="915.00" stroke="#001020" stroke-width="1.0" opacity="0.2"/>
<line x1="1278.60" y1="550.00" x2="1277.40" y2="915.00" stroke="#001020" stroke-width="1.5" opacity="0.32"/>
<line x1="1282.80" y1="550.00" x2="1279.60" y2="915.00" stroke="#001020" stroke-width="1.0" opacity="0.2"/>
<line x1="1285.00" y1="550.00" x2="1283.80" y2="915.00" stroke="#001020" stroke-width="1.5" opacity="0.32"/>
<line x1="1289.20" y1="550.00" x2="1286.00" y2="915.00" stroke="#001020" stroke-width="1.0" opacity="0.2"/>
<line x1="1291.40" y1="550.00" x2="1290.20" y2="915.00" stroke="#001020" stroke-width="1.5" opacity="0.32"/>
<line x1="1295.60" y1="550.00" x2="1292.40" y2="915.00" stroke="#001020" stroke-width="1.0" opacity="0.2"/>
<line x1="1297.80" y1="550.00" x2="1296.60" y2="915.00" stroke="#001020" stroke-width="1.5" opacity="0.32"/>
<line x1="1302.00" y1="550.00" x2="1298.80" y2="915.00" stroke="#001020" stroke-width="1.0" opacity="0.2"/>
<line x1="1304.20" y1="550.00" x2="1303.00" y2="915.00" stroke="#001020" stroke-width="1.5" opacity="0.32"/>
<line x1="1308.40" y1="550.00" x2="1305.20" y2="915.00" stroke="#001020" stroke-width="1.0" opacity="0.2"/>
<line x1="1310.60" y1="550.00" x2="1309.40" y2="915.00" stroke="#001020" stroke-width="1.5" opacity="0.32"/>
<line x1="1314.80" y1="550.00" x2="1311.60" y2="915.00" stroke="#001020" stroke-width="1.0" opacity="0.2"/>
<line x1="1317.00" y1="550.00" x2="1315.80" y2="915.00" stroke="#001020" stroke-width="1.5" opacity="0.32"/>
<line x1="1321.20" y1="550.00" x2="1318.00" y2="915.00" stroke="#001020" stroke-width="1.0" opacity="0.2"/>
<line x1="1323.40" y1="550.00" x2="1322.20" y2="915.00" stroke="#001020" stroke-width="1.5" opacity="0.32"/>
<line x1="1327.60" y1="550.00" x2="1324.40" y2="915.00" stroke="#001020" stroke-width="1.0" opacity="0.2"/>
<line x1="1329.80" y1="550.00" x2="1328.60" y2="915.00" stroke="#001020" stroke-width="1.5" opacity="0.32"/>
<line x1="1334.00" y1="550.00" x2="1330.80" y2="915.00" stroke="#001020" stroke-width="1.0" opacity="0.2"/>
<line x1="1336.20" y1="550.00" x2="1335.00" y2="915.00" stroke="#001020" stroke-width="1.5" opacity="0.32"/>
<line x1="1340.40" y1="550.00" x2="1337.20" y2="915.00" stroke="#001020" stroke-width="1.0" opacity="0.2"/>
<line x1="1342.60" y1="550.00" x2="1341.40" y2="915.00" stroke="#001020" stroke-width="1.5" opacity="0.32"/>
<line x1="1346.80" y1="550.00" x2="1343.60" y2="915.00" stroke="#001020" stroke-width="1.0" opacity="0.2"/>
</g>
<g clip-path="url(#c9)">
<line x1="990.60" y1="550.00" x2="989.40" y2="915.00" stroke="#001020" stroke-width="1.5" opacity="0.32"/>
<line x1="994.80" y1="550.00" x2="991.60" y2="915.00" stroke="#001020" stroke-width="1.0" opacity="0.2"/>
<line x1="997.00" y1="550.00" x2="995.80" y2="915.00" stroke="#001020" stroke-width="1.5" opacity="0.32"/>
<line x1="1001.20" y1="550.00" x2="998.00" y2="915.00" stroke="#001020" stroke-width="1.0" opacity="0.2"/>
<line x1="1003.40" y1="550.00" x2="1002.20" y2="915.00" stroke="#001020" stroke-width="1.5" opacity="0.32"/>
<line x1="1007.60" y1="550.00" x2="1004.40" y2="915.00" stroke="#001020" stroke-width="1.0" opacity="0.2"/>
<line x1="1009.80" y1="550.00" x2="1008.60" y2="915.00" stroke="#001020" stroke-width="1.5" opacity="0.32"/>
<line x1="1014.00" y1="550.00" x2="1010.80" y2="915.00" stroke="#001020" stroke-width="1.0" opacity="0.2"/>
<line x1="1016.20" y1="550.00" x2="1015.00" y2="915.00" stroke="#001020" stroke-width="1.5" opacity="0.32"/>
<line x1="1020.40" y1="550.00" x2="1017.20" y2="915.00" stroke="#001020" stroke-width="1.0" opacity="0.2"/>
<line x1="1022.60" y1="550.00" x2="1021.40" y2="915.00" stroke="#001020" stroke-width="1.5" opacity="0.32"/>
<line x1="1026.80" y1="550.00" x2="1023.60" y2="915.00" stroke="#001020" stroke-width="1.0" opacity="0.2"/>
<line x1="1029.00" y1="550.00" x2="1027.80" y2="915.00" stroke="#001020" stroke-width="1.5" opacity="0.32"/>
<line x1="1033.20" y1="550.00" x2="1030.00" y2="915.00" stroke="#001020" stroke-width="1.0" opacity="0.2"/>
<line x1="1035.40" y1="550.00" x2="1034.20" y2="915.00" stroke="#001020" stroke-width="1.5" opacity="0.32"/>
<line x1="1039.60" y1="550.00" x2="1036.40" y2="915.00" stroke="#001020" stroke-width="1.0" opacity="0.2"/>
<line x1="1041.80" y1="550.00" x2="1040.60" y2="915.00" stroke="#001020" stroke-width="1.5" opacity="0.32"/>
<line x1="1046.00" y1="550.00" x2="1042.80" y2="915.00" stroke="#001020" stroke-width="1.0" opacity="0.2"/>
<line x1="1048.20" y1="550.00" x2="1047.00" y2="915.00" stroke="#001020" stroke-width="1.5" opacity="0.32"/>
<line x1="1052.40" y1="550.00" x2="1049.20" y2="915.00" stroke="#001020" stroke-width="1.0" opacity="0.2"/>
<line x1="1054.60" y1="550.00" x2="1053.40" y2="915.00" stroke="#001020" stroke-width="1.5" opacity="0.32"/>
<line x1="1058.80" y1="550.00" x2="1055.60" y2="915.00" stroke="#001020" stroke-width="1.0" opacity="0.2"/>
<line x1="1061.00" y1="550.00" x2="1059.80" y2="915.00" stroke="#001020" stroke-width="1.5" opacity="0.32"/>
<line x1="1065.20" y1="550.00" x2="1062.00" y2="915.00" stroke="#001020" stroke-width="1.0" opacity="0.2"/>
<line x1="1067.40" y1="550.00" x2="1066.20" y2="915.00" stroke="#001020" stroke-width="1.5" opacity="0.32"/>
<line x1="1071.60" y1="550.00" x2="1068.40" y2="915.00" stroke="#001020" stroke-width="1.0" opacity="0.2"/>
<line x1="1073.80" y1="550.00" x2="1072.60" y2="915.00" stroke="#001020" stroke-width="1.5" opacity="0.32"/>
<line x1="1078.00" y1="550.00" x2="1074.80" y2="915.00" stroke="#001020" stroke-width="1.0" opacity="0.2"/>
<line x1="1080.20" y1="550.00" x2="1079.00" y2="915.00" stroke="#001020" stroke-width="1.5" opacity="0.32"/>
<line x1="1084.40" y1="550.00" x2="1081.20" y2="915.00" stroke="#001020" stroke-width="1.0" opacity="0.2"/>
<line x1="1086.60" y1="550.00" x2="1085.40" y2="915.00" stroke="#001020" stroke-width="1.5" opacity="0.32"/>
<line x1="1090.80" y1="550.00" x2="1087.60" y2="915.00" stroke="#001020" stroke-width="1.0" opacity="0.2"/>
<line x1="1093.00" y1="550.00" x2="1091.80" y2="915.00" stroke="#001020" stroke-width="1.5" opacity="0.32"/>
<line x1="1097.20" y1="550.00" x2="1094.00" y2="915.00" stroke="#001020" stroke-width="1.0" opacity="0.2"/>
<line x1="1099.40" y1="550.00" x2="1098.20" y2="915.00" stroke="#001020" stroke-width="1.5" opacity="0.32"/>
<line x1="1103.60" y1="550.00" x2="1100.40" y2="915.00" stroke="#001020" stroke-width="1.0" opacity="0.2"/>
<line x1="1105.80" y1="550.00" x2="1104.60" y2="915.00" stroke="#001020" stroke-width="1.5" opacity="0.32"/>
<line x1="1110.00" y1="550.00" x2="1106.80" y2="915.00" stroke="#001020" stroke-width="1.0" opacity="0.2"/>
<line x1="1112.20" y1="550.00" x2="1111.00" y2="915.00" stroke="#001020" stroke-width="1.5" opacity="0.32"/>
<line x1="1116.40" y1="550.00" x2="1113.20" y2="915.00" stroke="#001020" stroke-width="1.0" opacity="0.2"/>
<line x1="1118.60" y1="550.00" x2="1117.40" y2="915.00" stroke="#001020" stroke-width="1.5" opacity="0.32"/>
<line x1="1122.80" y1="550.00" x2="1119.60" y2="915.00" stroke="#001020" stroke-width="1.0" opacity="0.2"/>
<line x1="1125.00" y1="550.00" x2="1123.80" y2="915.00" stroke="#001020" stroke-width="1.5" opacity="0.32"/>
<line x1="1129.20" y1="550.00" x2="1126.00" y2="915.00" stroke="#001020" stroke-width="1.0" opacity="0.2"/>
<line x1="1131.40" y1="550.00" x2="1130.20" y2="915.00" stroke="#001020" stroke-width="1.5" opacity="0.32"/>
<line x1="1135.60" y1="550.00" x2="1132.40" y2="915.00" stroke="#001020" stroke-width="1.0" opacity="0.2"/>
<line x1="1137.80" y1="550.00" x2="1136.60" y2="915.00" stroke="#001020" stroke-width="1.5" opacity="0.32"/>
<line x1="1142.00" y1="550.00" x2="1138.80" y2="915.00" stroke="#001020" stroke-width="1.0" opacity="0.2"/>
<line x1="1144.20" y1="550.00" x2="1143.00" y2="915.00" stroke="#001020" stroke-width="1.5" opacity="0.32"/>
<line x1="1148.40" y1="550.00" x2="1145.20" y2="915.00" stroke="#001020" stroke-width="1.0" opacity="0.2"/>
<line x1="1150.60" y1="550.00" x2="1149.40" y2="915.00" stroke="#001020" stroke-width="1.5" opacity="0.32"/>
<line x1="1154.80" y1="550.00" x2="1151.60" y2="915.00" stroke="#001020" stroke-width="1.0" opacity="0.2"/>
<line x1="1157.00" y1="550.00" x2="1155.80" y2="915.00" stroke="#001020" stroke-width="1.5" opacity="0.32"/>
<line x1="1161.20" y1="550.00" x2="1158.00" y2="915.00" stroke="#001020" stroke-width="1.0" opacity="0.2"/>
<line x1="1163.40" y1="550.00" x2="1162.20" y2="915.00" stroke="#001020" stroke-width="1.5" opacity="0.32"/>
<line x1="1167.60" y1="550.00" x2="1164.40" y2="915.00" stroke="#001020" stroke-width="1.0" opacity="0.2"/>
<line x1="1169.80" y1="550.00" x2="1168.60" y2="915.00" stroke="#001020" stroke-width="1.5" opacity="0.32"/>
<line x1="1174.00" y1="550.00" x2="1170.80" y2="915.00" stroke="#001020" stroke-width="1.0" opacity="0.2"/>
<line x1="1176.20" y1="550.00" x2="1175.00" y2="915.00" stroke="#001020" stroke-width="1.5" opacity="0.32"/>
<line x1="1180.40" y1="550.00" x2="1177.20" y2="915.00" stroke="#001020" stroke-width="1.0" opacity="0.2"/>
<line x1="1182.60" y1="550.00" x2="1181.40" y2="915.00" stroke="#001020" stroke-width="1.5" opacity="0.32"/>
<line x1="1186.80" y1="550.00" x2="1183.60" y2="915.00" stroke="#001020" stroke-width="1.0" opacity="0.2"/>
<line x1="1189.00" y1="550.00" x2="1187.80" y2="915.00" stroke="#001020" stroke-width="1.5" opacity="0.32"/>
<line x1="1193.20" y1="550.00" x2="1190.00" y2="915.00" stroke="#001020" stroke-width="1.0" opacity="0.2"/>
<line x1="1195.40" y1="550.00" x2="1194.20" y2="915.00" stroke="#001020" stroke-width="1.5" opacity="0.32"/>
<line x1="1199.60" y1="550.00" x2="1196.40" y2="915.00" stroke="#001020" stroke-width="1.0" opacity="0.2"/>
<line x1="1201.80" y1="550.00" x2="1200.60" y2="915.00" stroke="#001020" stroke-width="1.5" opacity="0.32"/>
<line x1="1206.00" y1="550.00" x2="1202.80" y2="915.00" stroke="#001020" stroke-width="1.0" opacity="0.2"/>
<line x1="1208.20" y1="550.00" x2="1207.00" y2="915.00" stroke="#001020" stroke-width="1.5" opacity="0.32"/>
<line x1="1212.40" y1="550.00" x2="1209.20" y2="915.00" stroke="#001020" stroke-width="1.0" opacity="0.2"/>
<line x1="1214.60" y1="550.00" x2="1213.40" y2="915.00" stroke="#001020" stroke-width="1.5" opacity="0.32"/>
<line x1="1218.80" y1="550.00" x2="1215.60" y2="915.00" stroke="#001020" stroke-width="1.0" opacity="0.2"/>
<line x1="1221.00" y1="550.00" x2="1219.80" y2="915.00" stroke="#001020" stroke-width="1.5" opacity="0.32"/>
<line x1="1225.20" y1="550.00" x2="1222.00" y2="915.00" stroke="#001020" stroke-width="1.0" opacity="0.2"/>
<line x1="1227.40" y1="550.00" x2="1226.20" y2="915.00" stroke="#001020" stroke-width="1.5" opacity="0.32"/>
<line x1="1231.60" y1="550.00" x2="1228.40" y2="915.00" stroke="#001020" stroke-width="1.0" opacity="0.2"/>
<line x1="1233.80" y1="550.00" x2="1232.60" y2="915.00" stroke="#001020" stroke-width="1.5" opacity="0.32"/>
<line x1="1238.00" y1="550.00" x2="1234.80" y2="915.00" stroke="#001020" stroke-width="1.0" opacity="0.2"/>
<line x1="1240.20" y1="550.00" x2="1239.00" y2="915.00" stroke="#001020" stroke-width="1.5" opacity="0.32"/>
<line x1="1244.40" y1="550.00" x2="1241.20" y2="915.00" stroke="#001020" stroke-width="1.0" opacity="0.2"/>
<line x1="1246.60" y1="550.00" x2="1245.40" y2="915.00" stroke="#001020" stroke-width="1.5" opacity="0.32"/>
<line x1="1250.80" y1="550.00" x2="1247.60" y2="915.00" stroke="#001020" stroke-width="1.0" opacity="0.2"/>
<line x1="1253.00" y1="550.00" x2="1251.80" y2="915.00" stroke="#001020" stroke-width="1.5" opacity="0.32"/>
<line x1="1257.20" y1="550.00" x2="1254.00" y2="915.00" stroke="#001020" stroke-width="1.0" opacity="0.2"/>
<line x1="1259.40" y1="550.00" x2="1258.20" y2="915.00" stroke="#001020" stroke-width="1.5" opacity="0.32"/>
<line x1="1263.60" y1="550.00" x2="1260.40" y2="915.00" stroke="#001020" stroke-width="1.0" opacity="0.2"/>
<line x1="1265.80" y1="550.00" x2="1264.60" y2="915.00" stroke="#001020" stroke-width="1.5" opacity="0.32"/>
<line x1="1270.00" y1="550.00" x2="1266.80" y2="915.00" stroke="#001020" stroke-width="1.0" opacity="0.2"/>
<line x1="1272.20" y1="550.00" x2="1271.00" y2="915.00" stroke="#001020" stroke-width="1.5" opacity="0.32"/>
<line x1="1276.40" y1="550.00" x2="1273.20" y2="915.00" stroke="#001020" stroke-width="1.0" opacity="0.2"/>
<line x1="1278.60" y1="550.00" x2="1277.40" y2="915.00" stroke="#001020" stroke-width="1.5" opacity="0.32"/>
<line x1="1282.80" y1="550.00" x2="1279.60" y2="915.00" stroke="#001020" stroke-width="1.0" opacity="0.2"/>
<line x1="1285.00" y1="550.00" x2="1283.80" y2="915.00" stroke="#001020" stroke-width="1.5" opacity="0.32"/>
<line x1="1289.20" y1="550.00" x2="1286.00" y2="915.00" stroke="#001020" stroke-width="1.0" opacity="0.2"/>
<line x1="1291.40" y1="550.00" x2="1290.20" y2="915.00" stroke="#001020" stroke-width="1.5" opacity="0.32"/>
<line x1="1295.60" y1="550.00" x2="1292.40" y2="915.00" stroke="#001020" stroke-width="1.0" opacity="0.2"/>
<line x1="1297.80" y1="550.00" x2="1296.60" y2="915.00" stroke="#001020" stroke-width="1.5" opacity="0.32"/>
<line x1="1302.00" y1="550.00" x2="1298.80" y2="915.00" stroke="#001020" stroke-width="1.0" opacity="0.2"/>
<line x1="1304.20" y1="550.00" x2="1303.00" y2="915.00" stroke="#001020" stroke-width="1.5" opacity="0.32"/>
<line x1="1308.40" y1="550.00" x2="1305.20" y2="915.00" stroke="#001020" stroke-width="1.0" opacity="0.2"/>
<line x1="1310.60" y1="550.00" x2="1309.40" y2="915.00" stroke="#001020" stroke-width="1.5" opacity="0.32"/>
<line x1="1314.80" y1="550.00" x2="1311.60" y2="915.00" stroke="#001020" stroke-width="1.0" opacity="0.2"/>
<line x1="1317.00" y1="550.00" x2="1315.80" y2="915.00" stroke="#001020" stroke-width="1.5" opacity="0.32"/>
<line x1="1321.20" y1="550.00" x2="1318.00" y2="915.00" stroke="#001020" stroke-width="1.0" opacity="0.2"/>
<line x1="1323.40" y1="550.00" x2="1322.20" y2="915.00" stroke="#001020" stroke-width="1.5" opacity="0.32"/>
<line x1="1327.60" y1="550.00" x2="1324.40" y2="915.00" stroke="#001020" stroke-width="1.0" opacity="0.2"/>
<line x1="1329.80" y1="550.00" x2="1328.60" y2="915.00" stroke="#001020" stroke-width="1.5" opacity="0.32"/>
<line x1="1334.00" y1="550.00" x2="1330.80" y2="915.00" stroke="#001020" stroke-width="1.0" opacity="0.2"/>
<line x1="1336.20" y1="550.00" x2="1335.00" y2="915.00" stroke="#001020" stroke-width="1.5" opacity="0.32"/>
<line x1="1340.40" y1="550.00" x2="1337.20" y2="915.00" stroke="#001020" stroke-width="1.0" opacity="0.2"/>
<line x1="1342.60" y1="550.00" x2="1341.40" y2="915.00" stroke="#001020" stroke-width="1.5" opacity="0.32"/>
<line x1="1346.80" y1="550.00" x2="1343.60" y2="915.00" stroke="#001020" stroke-width="1.0" opacity="0.2"/>
</g>
<g clip-path="url(#c10)">
<line x1="990.60" y1="550.00" x2="989.40" y2="915.00" stroke="#001020" stroke-width="1.5" opacity="0.32"/>
<line x1="994.80" y1="550.00" x2="991.60" y2="915.00" stroke="#001020" stroke-width="1.0" opacity="0.2"/>
<line x1="997.00" y1="550.00" x2="995.80" y2="915.00" stroke="#001020" stroke-width="1.5" opacity="0.32"/>
<line x1="1001.20" y1="550.00" x2="998.00" y2="915.00" stroke="#001020" stroke-width="1.0" opacity="0.2"/>
<line x1="1003.40" y1="550.00" x2="1002.20" y2="915.00" stroke="#001020" stroke-width="1.5" opacity="0.32"/>
<line x1="1007.60" y1="550.00" x2="1004.40" y2="915.00" stroke="#001020" stroke-width="1.0" opacity="0.2"/>
<line x1="1009.80" y1="550.00" x2="1008.60" y2="915.00" stroke="#001020" stroke-width="1.5" opacity="0.32"/>
<line x1="1014.00" y1="550.00" x2="1010.80" y2="915.00" stroke="#001020" stroke-width="1.0" opacity="0.2"/>
<line x1="1016.20" y1="550.00" x2="1015.00" y2="915.00" stroke="#001020" stroke-width="1.5" opacity="0.32"/>
<line x1="1020.40" y1="550.00" x2="1017.20" y2="915.00" stroke="#001020" stroke-width="1.0" opacity="0.2"/>
<line x1="1022.60" y1="550.00" x2="1021.40" y2="915.00" stroke="#001020" stroke-width="1.5" opacity="0.32"/>
<line x1="1026.80" y1="550.00" x2="1023.60" y2="915.00" stroke="#001020" stroke-width="1.0" opacity="0.2"/>
<line x1="1029.00" y1="550.00" x2="1027.80" y2="915.00" stroke="#001020" stroke-width="1.5" opacity="0.32"/>
<line x1="1033.20" y1="550.00" x2="1030.00" y2="915.00" stroke="#001020" stroke-width="1.0" opacity="0.2"/>
<line x1="1035.40" y1="550.00" x2="1034.20" y2="915.00" stroke="#001020" stroke-width="1.5" opacity="0.32"/>
<line x1="1039.60" y1="550.00" x2="1036.40" y2="915.00" stroke="#001020" stroke-width="1.0" opacity="0.2"/>
<line x1="1041.80" y1="550.00" x2="1040.60" y2="915.00" stroke="#001020" stroke-width="1.5" opacity="0.32"/>
<line x1="1046.00" y1="550.00" x2="1042.80" y2="915.00" stroke="#001020" stroke-width="1.0" opacity="0.2"/>
<line x1="1048.20" y1="550.00" x2="1047.00" y2="915.00" stroke="#001020" stroke-width="1.5" opacity="0.32"/>
<line x1="1052.40" y1="550.00" x2="1049.20" y2="915.00" stroke="#001020" stroke-width="1.0" opacity="0.2"/>
<line x1="1054.60" y1="550.00" x2="1053.40" y2="915.00" stroke="#001020" stroke-width="1.5" opacity="0.32"/>
<line x1="1058.80" y1="550.00" x2="1055.60" y2="915.00" stroke="#001020" stroke-width="1.0" opacity="0.2"/>
<line x1="1061.00" y1="550.00" x2="1059.80" y2="915.00" stroke="#001020" stroke-width="1.5" opacity="0.32"/>
<line x1="1065.20" y1="550.00" x2="1062.00" y2="915.00" stroke="#001020" stroke-width="1.0" opacity="0.2"/>
<line x1="1067.40" y1="550.00" x2="1066.20" y2="915.00" stroke="#001020" stroke-width="1.5" opacity="0.32"/>
<line x1="1071.60" y1="550.00" x2="1068.40" y2="915.00" stroke="#001020" stroke-width="1.0" opacity="0.2"/>
<line x1="1073.80" y1="550.00" x2="1072.60" y2="915.00" stroke="#001020" stroke-width="1.5" opacity="0.32"/>
<line x1="1078.00" y1="550.00" x2="1074.80" y2="915.00" stroke="#001020" stroke-width="1.0" opacity="0.2"/>
<line x1="1080.20" y1="550.00" x2="1079.00" y2="915.00" stroke="#001020" stroke-width="1.5" opacity="0.32"/>
<line x1="1084.40" y1="550.00" x2="1081.20" y2="915.00" stroke="#001020" stroke-width="1.0" opacity="0.2"/>
<line x1="1086.60" y1="550.00" x2="1085.40" y2="915.00" stroke="#001020" stroke-width="1.5" opacity="0.32"/>
<line x1="1090.80" y1="550.00" x2="1087.60" y2="915.00" stroke="#001020" stroke-width="1.0" opacity="0.2"/>
<line x1="1093.00" y1="550.00" x2="1091.80" y2="915.00" stroke="#001020" stroke-width="1.5" opacity="0.32"/>
<line x1="1097.20" y1="550.00" x2="1094.00" y2="915.00" stroke="#001020" stroke-width="1.0" opacity="0.2"/>
<line x1="1099.40" y1="550.00" x2="1098.20" y2="915.00" stroke="#001020" stroke-width="1.5" opacity="0.32"/>
<line x1="1103.60" y1="550.00" x2="1100.40" y2="915.00" stroke="#001020" stroke-width="1.0" opacity="0.2"/>
<line x1="1105.80" y1="550.00" x2="1104.60" y2="915.00" stroke="#001020" stroke-width="1.5" opacity="0.32"/>
<line x1="1110.00" y1="550.00" x2="1106.80" y2="915.00" stroke="#001020" stroke-width="1.0" opacity="0.2"/>
<line x1="1112.20" y1="550.00" x2="1111.00" y2="915.00" stroke="#001020" stroke-width="1.5" opacity="0.32"/>
<line x1="1116.40" y1="550.00" x2="1113.20" y2="915.00" stroke="#001020" stroke-width="1.0" opacity="0.2"/>
<line x1="1118.60" y1="550.00" x2="1117.40" y2="915.00" stroke="#001020" stroke-width="1.5" opacity="0.32"/>
<line x1="1122.80" y1="550.00" x2="1119.60" y2="915.00" stroke="#001020" stroke-width="1.0" opacity="0.2"/>
<line x1="1125.00" y1="550.00" x2="1123.80" y2="915.00" stroke="#001020" stroke-width="1.5" opacity="0.32"/>
<line x1="1129.20" y1="550.00" x2="1126.00" y2="915.00" stroke="#001020" stroke-width="1.0" opacity="0.2"/>
<line x1="1131.40" y1="550.00" x2="1130.20" y2="915.00" stroke="#001020" stroke-width="1.5" opacity="0.32"/>
<line x1="1135.60" y1="550.00" x2="1132.40" y2="915.00" stroke="#001020" stroke-width="1.0" opacity="0.2"/>
<line x1="1137.80" y1="550.00" x2="1136.60" y2="915.00" stroke="#001020" stroke-width="1.5" opacity="0.32"/>
<line x1="1142.00" y1="550.00" x2="1138.80" y2="915.00" stroke="#001020" stroke-width="1.0" opacity="0.2"/>
<line x1="1144.20" y1="550.00" x2="1143.00" y2="915.00" stroke="#001020" stroke-width="1.5" opacity="0.32"/>
<line x1="1148.40" y1="550.00" x2="1145.20" y2="915.00" stroke="#001020" stroke-width="1.0" opacity="0.2"/>
<line x1="1150.60" y1="550.00" x2="1149.40" y2="915.00" stroke="#001020" stroke-width="1.5" opacity="0.32"/>
<line x1="1154.80" y1="550.00" x2="1151.60" y2="915.00" stroke="#001020" stroke-width="1.0" opacity="0.2"/>
<line x1="1157.00" y1="550.00" x2="1155.80" y2="915.00" stroke="#001020" stroke-width="1.5" opacity="0.32"/>
<line x1="1161.20" y1="550.00" x2="1158.00" y2="915.00" stroke="#001020" stroke-width="1.0" opacity="0.2"/>
<line x1="1163.40" y1="550.00" x2="1162.20" y2="915.00" stroke="#001020" stroke-width="1.5" opacity="0.32"/>
<line x1="1167.60" y1="550.00" x2="1164.40" y2="915.00" stroke="#001020" stroke-width="1.0" opacity="0.2"/>
<line x1="1169.80" y1="550.00" x2="1168.60" y2="915.00" stroke="#001020" stroke-width="1.5" opacity="0.32"/>
<line x1="1174.00" y1="550.00" x2="1170.80" y2="915.00" stroke="#001020" stroke-width="1.0" opacity="0.2"/>
<line x1="1176.20" y1="550.00" x2="1175.00" y2="915.00" stroke="#001020" stroke-width="1.5" opacity="0.32"/>
<line x1="1180.40" y1="550.00" x2="1177.20" y2="915.00" stroke="#001020" stroke-width="1.0" opacity="0.2"/>
<line x1="1182.60" y1="550.00" x2="1181.40" y2="915.00" stroke="#001020" stroke-width="1.5" opacity="0.32"/>
<line x1="1186.80" y1="550.00" x2="1183.60" y2="915.00" stroke="#001020" stroke-width="1.0" opacity="0.2"/>
<line x1="1189.00" y1="550.00" x2="1187.80" y2="915.00" stroke="#001020" stroke-width="1.5" opacity="0.32"/>
<line x1="1193.20" y1="550.00" x2="1190.00" y2="915.00" stroke="#001020" stroke-width="1.0" opacity="0.2"/>
<line x1="1195.40" y1="550.00" x2="1194.20" y2="915.00" stroke="#001020" stroke-width="1.5" opacity="0.32"/>
<line x1="1199.60" y1="550.00" x2="1196.40" y2="915.00" stroke="#001020" stroke-width="1.0" opacity="0.2"/>
<line x1="1201.80" y1="550.00" x2="1200.60" y2="915.00" stroke="#001020" stroke-width="1.5" opacity="0.32"/>
<line x1="1206.00" y1="550.00" x2="1202.80" y2="915.00" stroke="#001020" stroke-width="1.0" opacity="0.2"/>
<line x1="1208.20" y1="550.00" x2="1207.00" y2="915.00" stroke="#001020" stroke-width="1.5" opacity="0.32"/>
<line x1="1212.40" y1="550.00" x2="1209.20" y2="915.00" stroke="#001020" stroke-width="1.0" opacity="0.2"/>
<line x1="1214.60" y1="550.00" x2="1213.40" y2="915.00" stroke="#001020" stroke-width="1.5" opacity="0.32"/>
<line x1="1218.80" y1="550.00" x2="1215.60" y2="915.00" stroke="#001020" stroke-width="1.0" opacity="0.2"/>
<line x1="1221.00" y1="550.00" x2="1219.80" y2="915.00" stroke="#001020" stroke-width="1.5" opacity="0.32"/>
<line x1="1225.20" y1="550.00" x2="1222.00" y2="915.00" stroke="#001020" stroke-width="1.0" opacity="0.2"/>
<line x1="1227.40" y1="550.00" x2="1226.20" y2="915.00" stroke="#001020" stroke-width="1.5" opacity="0.32"/>
<line x1="1231.60" y1="550.00" x2="1228.40" y2="915.00" stroke="#001020" stroke-width="1.0" opacity="0.2"/>
<line x1="1233.80" y1="550.00" x2="1232.60" y2="915.00" stroke="#001020" stroke-width="1.5" opacity="0.32"/>
<line x1="1238.00" y1="550.00" x2="1234.80" y2="915.00" stroke="#001020" stroke-width="1.0" opacity="0.2"/>
<line x1="1240.20" y1="550.00" x2="1239.00" y2="915.00" stroke="#001020" stroke-width="1.5" opacity="0.32"/>
<line x1="1244.40" y1="550.00" x2="1241.20" y2="915.00" stroke="#001020" stroke-width="1.0" opacity="0.2"/>
<line x1="1246.60" y1="550.00" x2="1245.40" y2="915.00" stroke="#001020" stroke-width="1.5" opacity="0.32"/>
<line x1="1250.80" y1="550.00" x2="1247.60" y2="915.00" stroke="#001020" stroke-width="1.0" opacity="0.2"/>
<line x1="1253.00" y1="550.00" x2="1251.80" y2="915.00" stroke="#001020" stroke-width="1.5" opacity="0.32"/>
<line x1="1257.20" y1="550.00" x2="1254.00" y2="915.00" stroke="#001020" stroke-width="1.0" opacity="0.2"/>
<line x1="1259.40" y1="550.00" x2="1258.20" y2="915.00" stroke="#001020" stroke-width="1.5" opacity="0.32"/>
<line x1="1263.60" y1="550.00" x2="1260.40" y2="915.00" stroke="#001020" stroke-width="1.0" opacity="0.2"/>
<line x1="1265.80" y1="550.00" x2="1264.60" y2="915.00" stroke="#001020" stroke-width="1.5" opacity="0.32"/>
<line x1="1270.00" y1="550.00" x2="1266.80" y2="915.00" stroke="#001020" stroke-width="1.0" opacity="0.2"/>
<line x1="1272.20" y1="550.00" x2="1271.00" y2="915.00" stroke="#001020" stroke-width="1.5" opacity="0.32"/>
<line x1="1276.40" y1="550.00" x2="1273.20" y2="915.00" stroke="#001020" stroke-width="1.0" opacity="0.2"/>
<line x1="1278.60" y1="550.00" x2="1277.40" y2="915.00" stroke="#001020" stroke-width="1.5" opacity="0.32"/>
<line x1="1282.80" y1="550.00" x2="1279.60" y2="915.00" stroke="#001020" stroke-width="1.0" opacity="0.2"/>
<line x1="1285.00" y1="550.00" x2="1283.80" y2="915.00" stroke="#001020" stroke-width="1.5" opacity="0.32"/>
<line x1="1289.20" y1="550.00" x2="1286.00" y2="915.00" stroke="#001020" stroke-width="1.0" opacity="0.2"/>
<line x1="1291.40" y1="550.00" x2="1290.20" y2="915.00" stroke="#001020" stroke-width="1.5" opacity="0.32"/>
<line x1="1295.60" y1="550.00" x2="1292.40" y2="915.00" stroke="#001020" stroke-width="1.0" opacity="0.2"/>
<line x1="1297.80" y1="550.00" x2="1296.60" y2="915.00" stroke="#001020" stroke-width="1.5" opacity="0.32"/>
<line x1="1302.00" y1="550.00" x2="1298.80" y2="915.00" stroke="#001020" stroke-width="1.0" opacity="0.2"/>
<line x1="1304.20" y1="550.00" x2="1303.00" y2="915.00" stroke="#001020" stroke-width="1.5" opacity="0.32"/>
<line x1="1308.40" y1="550.00" x2="1305.20" y2="915.00" stroke="#001020" stroke-width="1.0" opacity="0.2"/>
<line x1="1310.60" y1="550.00" x2="1309.40" y2="915.00" stroke="#001020" stroke-width="1.5" opacity="0.32"/>
<line x1="1314.80" y1="550.00" x2="1311.60" y2="915.00" stroke="#001020" stroke-width="1.0" opacity="0.2"/>
<line x1="1317.00" y1="550.00" x2="1315.80" y2="915.00" stroke="#001020" stroke-width="1.5" opacity="0.32"/>
<line x1="1321.20" y1="550.00" x2="1318.00" y2="915.00" stroke="#001020" stroke-width="1.0" opacity="0.2"/>
<line x1="1323.40" y1="550.00" x2="1322.20" y2="915.00" stroke="#001020" stroke-width="1.5" opacity="0.32"/>
<line x1="1327.60" y1="550.00" x2="1324.40" y2="915.00" stroke="#001020" stroke-width="1.0" opacity="0.2"/>
<line x1="1329.80" y1="550.00" x2="1328.60" y2="915.00" stroke="#001020" stroke-width="1.5" opacity="0.32"/>
<line x1="1334.00" y1="550.00" x2="1330.80" y2="915.00" stroke="#001020" stroke-width="1.0" opacity="0.2"/>
<line x1="1336.20" y1="550.00" x2="1335.00" y2="915.00" stroke="#001020" stroke-width="1.5" opacity="0.32"/>
<line x1="1340.40" y1="550.00" x2="1337.20" y2="915.00" stroke="#001020" stroke-width="1.0" opacity="0.2"/>
<line x1="1342.60" y1="550.00" x2="1341.40" y2="915.00" stroke="#001020" stroke-width="1.5" opacity="0.32"/>
<line x1="1346.80" y1="550.00" x2="1343.60" y2="915.00" stroke="#001020" stroke-width="1.0" opacity="0.2"/>
</g>
<line x1="866.25" y1="750.00" x2="1411.75" y2="750.00" stroke="#ffffff" stroke-width="1" opacity="0.35"/>
<circle cx="1004.50" cy="896.00" r="2.4" fill="#000"/>
<circle cx="1041.00" cy="877.00" r="2.4" fill="#000"/>
<circle cx="1077.50" cy="808.00" r="2.4" fill="#000"/>
<circle cx="1126.50" cy="783.00" r="2.4" fill="#000"/>
<circle cx="1163.00" cy="764.00" r="2.4" fill="#000"/>
<circle cx="1212.00" cy="739.00" r="2.4" fill="#000"/>
<circle cx="1261.00" cy="600.00" r="2.4" fill="#000"/>
<circle cx="1324.50" cy="570.00" r="2.4" fill="#000"/>
<line x1="935.00" y1="743.50" x2="938.75" y2="752.50" stroke="#4a4a4a" stroke-width="1.1" />
<text x="928.25" y="744.00" font-family='"Liberation Sans", Arial, Helvetica, sans-serif' font-size="13.4" text-anchor="middle" fill="#3c3c3c" >0</text>
<line x1="935.00" y1="686.20" x2="938.75" y2="695.20" stroke="#4a4a4a" stroke-width="1.1" />
<text x="928.25" y="686.70" font-family='"Liberation Sans", Arial, Helvetica, sans-serif' font-size="13.4" text-anchor="middle" fill="#3c3c3c" >1</text>
<line x1="935.00" y1="628.90" x2="938.75" y2="637.90" stroke="#4a4a4a" stroke-width="1.1" />
<text x="928.25" y="629.40" font-family='"Liberation Sans", Arial, Helvetica, sans-serif' font-size="13.4" text-anchor="middle" fill="#3c3c3c" >2</text>
<line x1="935.00" y1="571.60" x2="938.75" y2="580.60" stroke="#4a4a4a" stroke-width="1.1" />
<text x="928.25" y="572.10" font-family='"Liberation Sans", Arial, Helvetica, sans-serif' font-size="13.4" text-anchor="middle" fill="#3c3c3c" >3</text>
<text x="907.50" y="664.40" font-family='"Liberation Sans", Arial, Helvetica, sans-serif' font-size="15.5" text-anchor="middle" fill="#3c3c3c" transform="rotate(-90 907.50 664.40)" >Signal_Power_SK</text>
<text x="912.00" y="778.55" font-family='"Liberation Sans", Arial, Helvetica, sans-serif' font-size="13.4" text-anchor="middle" fill="#3c3c3c" >300</text>
<text x="928.75" y="828.55" font-family='"Liberation Sans", Arial, Helvetica, sans-serif' font-size="13.4" text-anchor="middle" fill="#3c3c3c" >200</text>
<text x="945.00" y="879.80" font-family='"Liberation Sans", Arial, Helvetica, sans-serif' font-size="13.4" text-anchor="middle" fill="#3c3c3c" >100</text>
<line x1="941.34" y1="762.55" x2="932.84" y2="763.15" stroke="#4a4a4a" stroke-width="1.1" />
<line x1="957.02" y1="812.89" x2="948.52" y2="813.49" stroke="#4a4a4a" stroke-width="1.1" />
<line x1="973.08" y1="864.41" x2="964.58" y2="865.01" stroke="#4a4a4a" stroke-width="1.1" />
<text x="897.50" y="916.25" font-family='"Liberation Sans", Arial, Helvetica, sans-serif' font-size="15.5" text-anchor="middle" fill="#3c3c3c" >FFs_SK</text>
<line x1="1020.00" y1="910.72" x2="1023.20" y2="920.02" stroke="#4a4a4a" stroke-width="1.1" />
<text x="1024.20" y="940.05" font-family='"Liberation Sans", Arial, Helvetica, sans-serif' font-size="13.4" text-anchor="middle" fill="#3c3c3c" >20</text>
<line x1="1061.70" y1="908.66" x2="1064.90" y2="917.96" stroke="#4a4a4a" stroke-width="1.1" />
<text x="1065.82" y="938.02" font-family='"Liberation Sans", Arial, Helvetica, sans-serif' font-size="13.4" text-anchor="middle" fill="#3c3c3c" >40</text>
<line x1="1103.40" y1="906.59" x2="1106.60" y2="915.89" stroke="#4a4a4a" stroke-width="1.1" />
<text x="1107.44" y="935.99" font-family='"Liberation Sans", Arial, Helvetica, sans-serif' font-size="13.4" text-anchor="middle" fill="#3c3c3c" >60</text>
<line x1="1145.10" y1="904.53" x2="1148.30" y2="913.83" stroke="#4a4a4a" stroke-width="1.1" />
<text x="1149.06" y="933.96" font-family='"Liberation Sans", Arial, Helvetica, sans-serif' font-size="13.4" text-anchor="middle" fill="#3c3c3c" >80</text>
<line x1="1186.79" y1="902.47" x2="1189.99" y2="911.77" stroke="#4a4a4a" stroke-width="1.1" />
<text x="1190.68" y="931.93" font-family='"Liberation Sans", Arial, Helvetica, sans-serif' font-size="13.4" text-anchor="middle" fill="#3c3c3c" >100</text>
<line x1="1228.49" y1="900.41" x2="1231.69" y2="909.71" stroke="#4a4a4a" stroke-width="1.1" />
<text x="1232.30" y="929.90" font-family='"Liberation Sans", Arial, Helvetica, sans-serif' font-size="13.4" text-anchor="middle" fill="#3c3c3c" >120</text>
<line x1="1270.19" y1="898.35" x2="1273.39" y2="907.65" stroke="#4a4a4a" stroke-width="1.1" />
<text x="1273.92" y="927.87" font-family='"Liberation Sans", Arial, Helvetica, sans-serif' font-size="13.4" text-anchor="middle" fill="#3c3c3c" >140</text>
<line x1="1311.89" y1="896.29" x2="1315.09" y2="905.59" stroke="#4a4a4a" stroke-width="1.1" />
<text x="1315.54" y="925.84" font-family='"Liberation Sans", Arial, Helvetica, sans-serif' font-size="13.4" text-anchor="middle" fill="#3c3c3c" >160</text>
<line x1="1353.59" y1="894.22" x2="1356.79" y2="903.52" stroke="#4a4a4a" stroke-width="1.1" />
<text x="1357.16" y="923.81" font-family='"Liberation Sans", Arial, Helvetica, sans-serif' font-size="13.4" text-anchor="middle" fill="#3c3c3c" >180</text>
<text x="1171.80" y="950.80" font-family='"Liberation Sans", Arial, Helvetica, sans-serif' font-size="15.5" text-anchor="middle" fill="#3c3c3c" >LUTs_SK</text>
<!-- captions -->
<text x="141.00" y="478.40" font-family='"Liberation Serif", "Times New Roman", serif' font-size="42.5" text-anchor="start" fill="#000" stroke="#000" stroke-width="0.35">(a)  Brent-Kung PPA</text>
<text x="690.80" y="478.40" font-family='"Liberation Serif", "Times New Roman", serif' font-size="42.5" text-anchor="start" fill="#000" stroke="#000" stroke-width="0.35">(b) Han-Carlson PPA</text>
<text x="1241.30" y="478.40" font-family='"Liberation Serif", "Times New Roman", serif' font-size="42.5" text-anchor="start" fill="#000" stroke="#000" stroke-width="0.35">(c) Kogge-Stone PPA</text>
<text x="345.60" y="1023.20" font-family='"Liberation Serif", "Times New Roman", serif' font-size="42.5" text-anchor="start" fill="#000" stroke="#000" stroke-width="0.35">(d) Ladner-Fischer PPA</text>
<text x="1033.70" y="1023.20" font-family='"Liberation Serif", "Times New Roman", serif' font-size="42.5" text-anchor="start" fill="#000" stroke="#000" stroke-width="0.35">(e) Sklansky PPA</text>
</svg>
</body></html>
